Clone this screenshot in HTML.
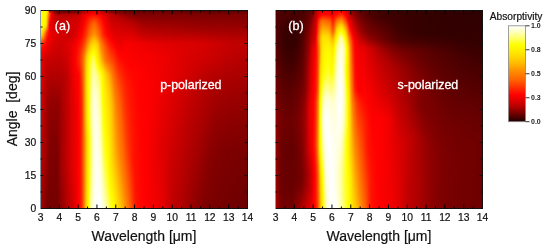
<!DOCTYPE html>
<html><head><meta charset="utf-8"><style>
html,body{margin:0;padding:0;background:#fff;width:550px;height:251px;overflow:hidden}
.fld{position:absolute;overflow:hidden}
.fld i{position:absolute;top:0;width:1px;height:100%}
svg{position:absolute;left:0;top:0}
text{font-family:"Liberation Sans",Arial,sans-serif}
.ax{stroke:#111;stroke-width:0.2px}
.wt{fill:#fff;stroke:#fff;stroke-width:0.3px}
</style></head><body>
<div class="fld" style="left:41px;top:11px;width:206px;height:197px"><i style="left:0px;background:linear-gradient(#ff0,#fffd00 14.5px,#ffea00 19.5px,#ffcf00 23.5px,#ffb700 25.5px,#ff6e00 29.5px,#ff3a00 32.5px,#ff2500 34.5px,#f00 40.5px,#ea0000 48.5px,#bf0000 133.5px,#a50000)"></i><i style="left:1px;background:linear-gradient(#ff0,#fffb00 14.5px,#ffe900 18.5px,#ffc200 23.5px,#ff9400 26.5px,#ff4f00 30.5px,#ff2e00 32.5px,#ff1b00 34.5px,#ff0200 38.5px,#e40000 48.5px,#c30000 104.5px,#a00 172.5px,#9b0000)"></i><i style="left:2px;background:linear-gradient(#ff0,#fff900 14.5px,#ffe100 18.5px,#ffab00 23.5px,#ff6300 28.5px,#ff3000 31.5px,#ff1800 33.5px,#fe0000 37.5px,#e10000 46.5px,#d20000 62.5px,#bc0000 100.5px,#ac0000 157.5px,#920000)"></i><i style="left:3px;background:linear-gradient(#ff0,#fff400 13.5px,#ffe200 16.5px,#ffbc00 19.5px,#ff8b00 22.5px,#ff6000 26.5px,#ff2b00 30.5px,#ff0e00 33.5px,#ff0200 35.5px,#da0000 46.5px,#c80000 64.5px,#b40000 98.5px,#a00 147.5px,#8a0000 194.5px,#890000)"></i><i style="left:4px;background:linear-gradient(#fffe00,#ffe800 13.5px,#ffd800 15.5px,#ffbc00 17.5px,#ff8100 20.5px,#ff5b00 23.5px,#ff2800 28.5px,#ff0400 33.5px,#fa0000 35.5px,#d50000 45.5px,#c60000 56.5px,#a00 100.5px,#a00000 150.5px,#810000 194.5px,#7f0000)"></i><i style="left:5px;background:linear-gradient(#fff000,#ffdf00 4.5px,#ffd200 13.5px,#ffc000 15.5px,#ff7200 19.5px,#ff3e00 22.5px,#ff1e00 26.5px,#fe0000 32.5px,#d00000 46.5px,#bd0000 60.5px,#a10000 97.5px,#970000 151.5px,#790000)"></i><i style="left:6px;background:linear-gradient(#ffd700,#ffca00 2.5px,#ffb000 5.5px,#ff8f00 12.5px,#ff6a00 16.5px,#ff4e00 18.5px,#ff2500 21.5px,#ff1000 24.5px,#f00 28.5px,#c80000 49.5px,#9e0000 91.5px,#860000 168.5px,#700)"></i><i style="left:7px;background:linear-gradient(#ff9a00,#ff7400 5.5px,#ff4a00 12.5px,#ff0d00 21.5px,#f00 24.5px,#c50000 50.5px,#960000 96.5px,#760000)"></i><i style="left:8px;background:linear-gradient(#ff6100,#ff4b00 4.5px,#ff0d00 10.5px,#ff0100 12.5px,#f50000 26.5px,#c20000 51.5px,#920000 97.5px,#7e0000 150.5px,#760000)"></i><i style="left:9px;background:linear-gradient(#ff2000,#ff1900 4.5px,#f00 8.5px,#ef0000 12.5px,#ef0000 26.5px,#bf0000 53.5px,#8f0000 97.5px,#7e0000 140.5px,#750000)"></i><i style="left:10px;background:linear-gradient(#f00000,#f60000 4.5px,#e50000 12.5px,#ea0000 25.5px,#c00 44.5px,#b10000 65.5px,#900000 96.5px,#7e0000 140.5px,#750000)"></i><i style="left:11px;background:linear-gradient(#c20000,#c80000 1.5px,#e10000 3.5px,#df0000 15.5px,#e70000 24.5px,#c00 44.5px,#9b0000 83.5px,#860000 114.5px,#750000 188.5px,#750000)"></i><i style="left:12px;background:linear-gradient(#9c0000,#a80000 1.5px,#cf0000 3.5px,#d50000 7.5px,#de0000 17.5px,#e40000 24.5px,#c70000 47.5px,#940000 90.5px,#800000 130.5px,#750000)"></i><i style="left:13px;background:linear-gradient(#8a0000,#960000 1.5px,#c10000 3.5px,#c00 6.5px,#e10000 23.5px,#c40000 49.5px,#930000 91.5px,#800000 132.5px,#750000)"></i><i style="left:14px;background:linear-gradient(#7c0000,#890000 1.5px,#ba0000 3.5px,#c70000 6.5px,#df0000 22.5px,#ca0000 44.5px,#930000 92.5px,#7f0000 133.5px,#750000)"></i><i style="left:15px;background:linear-gradient(#730000,#800000 1.5px,#b60000 3.5px,#c50000 6.5px,#dc0000 21.5px,#d30000 35.5px,#910000 94.5px,#7e0000 137.5px,#740000)"></i><i style="left:16px;background:linear-gradient(#6f0000,#7d0000 1.5px,#960000 2.5px,#b40000 3.5px,#c30000 6.5px,#da0000 21.5px,#d00000 37.5px,#900000 95.5px,#7d0000 159.5px,#700)"></i><i style="left:17px;background:linear-gradient(#6f0000,#7d0000 1.5px,#950000 2.5px,#b30000 3.5px,#c20000 6.5px,#d80000 20.5px,#d30000 32.5px,#a00 71.5px,#920000 94.5px,#7d0000)"></i><i style="left:18px;background:linear-gradient(#6f0000,#7d0000 1.5px,#b30000 3.5px,#c10000 6.5px,#d70000 20.5px,#d10000 35.5px,#970000 92.5px,#8f0000 165.5px,#840000)"></i><i style="left:19px;background:linear-gradient(#6e0000,#7d0000 1.5px,#b30000 3.5px,#c10000 6.5px,#d60000 21.5px,#c00 41.5px,#9f0000 87.5px,#9c0000 111.5px,#900 159.5px,#8a0000)"></i><i style="left:20px;background:linear-gradient(#6e0000,#7d0000 1.5px,#b30000 3.5px,#c10000 6.5px,#d40000 20.5px,#d00000 39.5px,#b10000 69.5px,#a30000 96.5px,#a10000 155.5px,#900000)"></i><i style="left:21px;background:linear-gradient(#6e0000,#7d0000 1.5px,#b30000 3.5px,#c10000 6.5px,#d20000 19.5px,#d10000 39.5px,#b40000 67.5px,#a90000 99.5px,#a70000 154.5px,#950000)"></i><i style="left:22px;background:linear-gradient(#6e0000,#7d0000 1.5px,#b30000 3.5px,#c10000 6.5px,#ce0000 16.5px,#d40000 37.5px,#b50000 67.5px,#af0000 108.5px,#ad0000 156.5px,#9b0000)"></i><i style="left:23px;background:linear-gradient(#6e0000,#7d0000 1.5px,#b30000 3.5px,#c10000 6.5px,#cd0000 14.5px,#d60000 36.5px,#c00000 57.5px,#b70000 68.5px,#b10000 163.5px,#a10000)"></i><i style="left:24px;background:linear-gradient(#6d0000,#7d0000 1.5px,#b30000 3.5px,#c20000 6.5px,#c00 12.5px,#d30000 27.5px,#d80000 36.5px,#c50000 55.5px,#ba0000 66.5px,#b70000 158.5px,#a70000 195.5px,#a70000)"></i><i style="left:25px;background:linear-gradient(#6d0000,#7d0000 1.5px,#b30000 3.5px,#c20000 6.5px,#cd0000 11.5px,#d10000 26.5px,#db0000 34.5px,#cb0000 53.5px,#bd0000 65.5px,#be0000 153.5px,#ae0000)"></i><i style="left:26px;background:linear-gradient(#6d0000,#7d0000 1.5px,#b30000 3.5px,#c30000 6.5px,#ce0000 11.5px,#cf0000 25.5px,#d00 33.5px,#d00000 52.5px,#c10000 64.5px,#c50000 149.5px,#b40000)"></i><i style="left:27px;background:linear-gradient(#6d0000,#7d0000 1.5px,#b20000 3.5px,#c30000 6.5px,#cf0000 11.5px,#cd0000 24.5px,#df0000 33.5px,#d50000 53.5px,#c70000 65.5px,#cb0000 149.5px,#ba0000)"></i><i style="left:28px;background:linear-gradient(#6d0000,#7d0000 1.5px,#b30000 3.5px,#c40000 6.5px,#d00000 11.5px,#cd0000 24.5px,#e10000 33.5px,#da0000 54.5px,#d00000 67.5px,#d10000 115.5px,#d10000 155.5px,#bf0000)"></i><i style="left:29px;background:linear-gradient(#6e0000,#7d0000 1.5px,#b30000 3.5px,#c50000 6.5px,#d10000 11.5px,#cd0000 24.5px,#e40000 33.5px,#e10000 54.5px,#d70000 68.5px,#d60000 113.5px,#d60000 154.5px,#c50000)"></i><i style="left:30px;background:linear-gradient(#6f0000,#7f0000 1.5px,#b50000 3.5px,#c60000 6.5px,#d20000 11.5px,#cd0000 24.5px,#e70000 33.5px,#e80000 53.5px,#d00 70.5px,#db0000 112.5px,#db0000 154.5px,#cb0000)"></i><i style="left:31px;background:linear-gradient(#710000,#800000 1.5px,#b70000 3.5px,#c70000 6.5px,#d30000 11.5px,#d00000 24.5px,#ea0000 33.5px,#ef0000 52.5px,#e20000 74.5px,#df0000 111.5px,#df0000 156.5px,#d10000)"></i><i style="left:32px;background:linear-gradient(#730000,#820000 1.5px,#b90000 3.5px,#c90000 6.5px,#d30000 11.5px,#d30000 24.5px,#ef0000 33.5px,#f50000 51.5px,#e40000 90.5px,#e40000 157.5px,#d70000)"></i><i style="left:33px;background:linear-gradient(#750000,#850000 1.5px,#bc0000 3.5px,#cb0000 6.5px,#d40000 12.5px,#d80000 24.5px,#f30000 33.5px,#fb0000 50.5px,#e70000 96.5px,#e90000 154.5px,#d00)"></i><i style="left:34px;background:linear-gradient(#780000,#870000 1.5px,#bf0000 3.5px,#c00 6.5px,#d70000 16.5px,#d00 24.5px,#f80000 33.5px,#ff0300 46.5px,#fb0000 59.5px,#ec0000 98.5px,#ef0000 154.5px,#e40000)"></i><i style="left:35px;background:linear-gradient(#7b0000,#8a0000 1.5px,#c20000 3.5px,#c00 5.5px,#e30000 24.5px,#fd0000 33.5px,#ff0c00 49.5px,#fd0000 62.5px,#f10000 98.5px,#f30000 167.5px,#ed0000)"></i><i style="left:36px;background:linear-gradient(#7e0000,#8e0000 1.5px,#c50000 3.5px,#ce0000 5.5px,#ea0000 24.5px,#ff0200 32.5px,#ff1500 46.5px,#f10 53.5px,#fe0000 63.5px,#f70000 103.5px,#f70000)"></i><i style="left:37px;background:linear-gradient(#810000,#910000 1.5px,#c80000 3.5px,#d10000 5.5px,#e30000 18.5px,#f00 29.5px,#ff1500 38.5px,#ff2000 48.5px,#ff1600 55.5px,#ff0300 64.5px,#fe0000 130.5px,#f00)"></i><i style="left:38px;background:linear-gradient(#850000,#960000 1.5px,#c00 3.5px,#d50000 5.5px,#e60000 17.5px,#ff0300 28.5px,#ff1a00 36.5px,#ff2c00 47.5px,#ff2700 53.5px,#ff0f00 64.5px,#ff0800 109.5px,#ff0800)"></i><i style="left:39px;background:linear-gradient(#8b0000,#9c0000 1.5px,#d00000 3.5px,#db0000 6.5px,#f10000 19.5px,#ff0200 26.5px,#ff2300 36.5px,#ff3900 46.5px,#ff3600 53.5px,#ff2000 65.5px,#ff1500 98.5px,#ff1400)"></i><i style="left:40px;background:linear-gradient(#920000,#a40000 1.5px,#d50000 3.5px,#e10000 6.5px,#f00 23.5px,#ff4100 42.5px,#ff4c00 48.5px,#ff4000 58.5px,#ff3100 72.5px,#ff2500 98.5px,#ff2a00 154.5px,#ff2800)"></i><i style="left:41px;background:linear-gradient(#900,#da0000 3.5px,#e80000 6.5px,#ff0200 20.5px,#ff2000 29.5px,#ff5c00 45.5px,#ff5f00 51.5px,#ff4200 87.5px,#ff4000 107.5px,#ff4900 137.5px,#ff4300)"></i><i style="left:42px;background:linear-gradient(#a10000,#de0000 3.5px,#e00 6.5px,#ff0300 16.5px,#ff1f00 26.5px,#ff4f00 37.5px,#ff6700 42.5px,#ff7400 48.5px,#ff6700 129.5px,#ff6500)"></i><i style="left:43px;background:linear-gradient(#a90000,#e30000 3.5px,#f40000 6.5px,#ff0400 12.5px,#ff2700 25.5px,#f50 35.5px,#ff8a00 45.5px,#ff9200 49.5px,#ff8f00 106.5px,#ff8100 131.5px,#ff8700 183.5px,#ff8d00)"></i><i style="left:44px;background:linear-gradient(#b00000,#d50000 2.5px,#e90000 3.5px,#f70000 5.5px,#ff0300 8.5px,#ff3000 24.5px,#ff8000 39.5px,#ffa600 45.5px,#ffb100 49.5px,#ffb900 68.5px,#ffb700 105.5px,#ffa400 130.5px,#fa0 174.5px,#ffb900)"></i><i style="left:45px;background:linear-gradient(#b50000,#e00 3.5px,#fd0000 5.5px,#f20 14.5px,#ff3b00 23.5px,#ff7600 33.5px,#ff9c00 39.5px,#ffc200 45.5px,#ffcf00 51.5px,#ffda00 65.5px,#ffd600 106.5px,#ffc500 131.5px,#fc0 179.5px,#ffd500)"></i><i style="left:46px;background:linear-gradient(#b00,#f30000 3.5px,#fc0000 4.5px,#ff2000 10.5px,#ff4e00 23.5px,#ffa000 36.5px,#ffc400 41.5px,#ffdf00 47.5px,#fe0 62.5px,#ffec00 106.5px,#ffde00 133.5px,#ffe500 185.5px,#ffea00)"></i><i style="left:47px;background:linear-gradient(#c20000,#f80000 3.5px,#ff0200 4.5px,#ff2000 8.5px,#ff4500 16.5px,#ff6500 24.5px,#ff8a00 30.5px,#ffd000 40.5px,#ffe700 45.5px,#fff500 53.5px,#fffd00 72.5px,#ffff01 101.5px,#fff000 133.5px,#fff700 185.5px,#fffc00)"></i><i style="left:48px;background:linear-gradient(#c80000,#fb0000 3.5px,#ff1000 5.5px,#f30 10.5px,#f50 17.5px,#f70 25.5px,#ffc200 35.5px,#ffe700 42.5px,#fffa00 49.5px,#ff0 53.5px,#ffff20 62.5px,#ffff40 82.5px,#ffff4a 98.5px,#ffff40 106.5px,#ffff0b 125.5px,#ffff05 133.5px,#ffff0c 161.5px,#ffff21 179.5px,#ff4 194.5px,#ffff4a)"></i><i style="left:49px;background:linear-gradient(#cf0000,#f10000 2.5px,#fe0000 3.5px,#ff2e00 8.5px,#ff5900 15.5px,#ff7c00 24.5px,#ffc500 33.5px,#ffed00 41.5px,#fffe00 46.5px,#ffff25 52.5px,#ff4 60.5px,#ffff6c 81.5px,#ffff7a 96.5px,#ffff74 105.5px,#ffff4a 127.5px,#ffff4b 147.5px,#ffff5d 169.5px,#ffff7d 187.5px,#ffff94)"></i><i style="left:50px;background:linear-gradient(#d40000,#f50000 2.5px,#ff0300 3.5px,#ff2d00 7.5px,#ff5a00 13.5px,#ff8100 23.5px,#ffb100 29.5px,#ffcf00 33.5px,#fff900 42.5px,#ffff03 44.5px,#ffff2b 47.5px,#ffff46 51.5px,#ffff65 59.5px,#ffff92 81.5px,#ffff9f 97.5px,#ffff96 110.5px,#ffff7f 128.5px,#ffff85 154.5px,#ffff9f 181.5px,#ffffb9)"></i><i style="left:51px;background:linear-gradient(#d80000,#f80000 2.5px,#ff0600 3.5px,#ff3c00 8.5px,#ff6200 13.5px,#ff8500 22.5px,#fa0 27.5px,#ffca00 31.5px,#fe0 38.5px,#fffe00 42.5px,#ffff43 47.5px,#ffff5f 51.5px,#ffff83 59.5px,#ffff9b 69.5px,#ffffb8 88.5px,#ffffbc 101.5px,#ffffa5 130.5px,#ffffad 161.5px,#ffffc6 187.5px,#ffffd3)"></i><i style="left:52px;background:linear-gradient(#da0000,#fa0000 2.5px,#ff0700 3.5px,#ff4900 9.5px,#ff6200 12.5px,#ff8c00 22.5px,#ffb100 27.5px,#ffd000 31.5px,#ffed00 37.5px,#fffd00 41.5px,#ffff06 42.5px,#ffff41 46.5px,#ffff5d 49.5px,#ffff87 56.5px,#ffffa0 63.5px,#ffffca 84.5px,#ffffd3 98.5px,#ffffc6 135.5px,#ffffd3 173.5px,#ffffe5)"></i><i style="left:53px;background:linear-gradient(#db0000,#fa0000 2.5px,#ff0800 3.5px,#ff4900 9.5px,#ff6200 12.5px,#ff8c00 22.5px,#ffb200 27.5px,#ffd700 32.5px,#fffa00 41.5px,#fffe00 42.5px,#ffff08 43.5px,#ffff3b 47.5px,#ffff6d 53.5px,#ffff97 60.5px,#ffffb9 71.5px,#ffffd4 84.5px,#ffffdf 97.5px,#ffffe3 160.5px,#fffff1)"></i><i style="left:54px;background:linear-gradient(#d90000,#f80000 2.5px,#ff0600 3.5px,#ff3c00 8.5px,#ff6300 13.5px,#ff8600 22.5px,#ffa300 26.5px,#ffc600 30.5px,#ffe100 35.5px,#fffe00 45.5px,#ffff05 46.5px,#ffff5f 55.5px,#ffff8e 61.5px,#ffffa7 67.5px,#ffffce 82.5px,#ffffe1 99.5px,#fffff0 142.5px,#fffff7)"></i><i style="left:55px;background:linear-gradient(#d50000,#f60000 2.5px,#ff0400 3.5px,#ff2d00 7.5px,#ff5a00 13.5px,#ff8100 23.5px,#ffac00 28.5px,#ffc600 31.5px,#ffe100 37.5px,#fffe00 50.5px,#ffff07 51.5px,#ffff5a 58.5px,#ffff86 63.5px,#ffff9c 68.5px,#ffffc4 82.5px,#ffffda 97.5px,#ffffef 129.5px,#fffffb)"></i><i style="left:56px;background:linear-gradient(#d00000,#f20000 2.5px,#f00 3.5px,#ff2700 7.5px,#ff5300 14.5px,#ff7b00 24.5px,#ffc300 32.5px,#ffdc00 39.5px,#ff0 54.5px,#ffff52 60.5px,#ff7 64.5px,#ffff9a 72.5px,#ffffbf 86.5px,#ffffd5 102.5px,#ffffec 138.5px,#fffffd 193.5px,#fffffd)"></i><i style="left:57px;background:linear-gradient(#ca0000,#fc0000 3.5px,#ff2700 8.5px,#ff5000 16.5px,#ff7000 24.5px,#ff8f00 28.5px,#ffb700 33.5px,#ffca00 38.5px,#fff600 54.5px,#fffd00 56.5px,#ffff07 57.5px,#ffff43 61.5px,#ffff61 64.5px,#ffff8c 73.5px,#ffffac 85.5px,#ffffcb 106.5px,#fffff6 176.5px,#fff)"></i><i style="left:58px;background:linear-gradient(#c30000,#f80000 3.5px,#ff0300 4.5px,#ff2000 8.5px,#ff4800 17.5px,#ff6500 24.5px,#ffa500 34.5px,#ffc300 42.5px,#ffe400 52.5px,#ffff01 59.5px,#ffff30 62.5px,#ffff46 64.5px,#ffff6f 72.5px,#ffff94 83.5px,#ffffb4 102.5px,#ffffe8 166.5px,#fffffd)"></i><i style="left:59px;background:linear-gradient(#bc0000,#f40000 3.5px,#fc0000 4.5px,#ff2100 10.5px,#ff4000 19.5px,#f50 24.5px,#ff9500 35.5px,#ffd600 52.5px,#fffe00 61.5px,#ffff24 64.5px,#ffff4a 71.5px,#ffff6f 82.5px,#ffff98 102.5px,#ffffdb 162.5px,#fffff9)"></i><i style="left:60px;background:linear-gradient(#b60000,#ed0000 3.5px,#fc0000 5.5px,#ff2300 13.5px,#ff3e00 23.5px,#ff7200 31.5px,#ff9600 40.5px,#ffb800 49.5px,#ffef00 59.5px,#ff0 64.5px,#ff2 72.5px,#ffff40 85.5px,#ffff71 109.5px,#ffff9e 132.5px,#ffffd8 171.5px,#fffff3)"></i><i style="left:61px;background:linear-gradient(#b10000,#e60000 3.5px,#fb0000 6.5px,#ff0500 8.5px,#ff1e00 16.5px,#ff2f00 23.5px,#ff4800 27.5px,#f60 31.5px,#ff8000 38.5px,#ffa700 49.5px,#ffe600 59.5px,#fff600 64.5px,#ffff01 78.5px,#ffff26 100.5px,#ffffa5 158.5px,#ffffe7 194.5px,#ffffea)"></i><i style="left:62px;background:linear-gradient(#ac0000,#e00000 3.5px,#f40000 6.5px,#f00 9.5px,#ff1500 17.5px,#f20 23.5px,#ff4100 28.5px,#ff6300 33.5px,#ff9100 48.5px,#ffb100 53.5px,#ffd400 58.5px,#ffe700 62.5px,#fff200 70.5px,#ffff03 99.5px,#ffff46 135.5px,#ffffbf 184.5px,#ffd)"></i><i style="left:63px;background:linear-gradient(#a70000,#da0000 3.5px,#f20000 7.5px,#ff0300 13.5px,#ff1800 23.5px,#ff3500 28.5px,#ff5a00 34.5px,#ff8600 49.5px,#ffa700 54.5px,#ffc600 58.5px,#ffde00 63.5px,#fff000 79.5px,#ffff02 114.5px,#ffff26 135.5px,#ffff7f 170.5px,#ffffc8)"></i><i style="left:64px;background:linear-gradient(#a00000,#d50000 3.5px,#ec0000 7.5px,#f00 16.5px,#ff0f00 23.5px,#ff3000 29.5px,#ff5000 35.5px,#ff6a00 44.5px,#ff7d00 50.5px,#ffb000 57.5px,#ffc900 61.5px,#ffd900 66.5px,#ffec00 83.5px,#ff0 129.5px,#ffff3f 156.5px,#ffffb0)"></i><i style="left:65px;background:linear-gradient(#9b0000,#d10000 3.5px,#e50000 7.5px,#fa0000 17.5px,#ff0400 22.5px,#ff1a00 27.5px,#ff4000 34.5px,#ff7400 50.5px,#ff9300 55.5px,#ffc300 62.5px,#ffd500 70.5px,#ffe700 86.5px,#ffff01 141.5px,#ffff56 173.5px,#ffff9c)"></i><i style="left:66px;background:linear-gradient(#950000,#c00 3.5px,#dc0000 6.5px,#f70000 19.5px,#f00 23.5px,#ff3a00 35.5px,#ff7000 51.5px,#ff9600 57.5px,#fb0 63.5px,#ffd000 73.5px,#ffe500 92.5px,#ffff02 153.5px,#ffff6b 188.5px,#ffff85)"></i><i style="left:67px;background:linear-gradient(#8f0000,#c70000 3.5px,#d60000 6.5px,#ff0200 25.5px,#f30 36.5px,#ff6100 49.5px,#ff8500 56.5px,#ffae00 63.5px,#ffc500 72.5px,#ffdf00 94.5px,#fffe00 162.5px,#ffff03 165.5px,#ffff6d)"></i><i style="left:68px;background:linear-gradient(#8b0000,#9b0000 1.5px,#c30000 3.5px,#d10000 6.5px,#f60000 23.5px,#f00 26.5px,#ff2e00 37.5px,#ff5900 49.5px,#ffa500 64.5px,#ffc300 77.5px,#ffda00 100.5px,#fff300 158.5px,#ffff02 175.5px,#ffff56)"></i><i style="left:69px;background:linear-gradient(#860000,#960000 1.5px,#bf0000 3.5px,#c00 6.5px,#e90000 20.5px,#ff0200 28.5px,#ff3000 40.5px,#ff5600 50.5px,#ff9800 64.5px,#ffc000 82.5px,#ffd200 104.5px,#ffe800 152.5px,#ffff01 183.5px,#ffff3d)"></i><i style="left:70px;background:linear-gradient(#830000,#920000 1.5px,#bc0000 3.5px,#ca0000 7.5px,#ea0000 22.5px,#f00 29.5px,#ff4e00 50.5px,#ff7b00 60.5px,#ff9700 69.5px,#ffbc00 88.5px,#ffc900 107.5px,#ffd900 144.5px,#ffff01 189.5px,#ffff26)"></i><i style="left:71px;background:linear-gradient(#800000,#8e0000 1.5px,#b80000 3.5px,#c80000 7.5px,#eb0000 24.5px,#fe0000 30.5px,#ff4b00 51.5px,#ff6d00 59.5px,#ff9800 76.5px,#ffb600 94.5px,#ffc300 119.5px,#ffd400 150.5px,#ff0 193.5px,#ffff0f)"></i><i style="left:72px;background:linear-gradient(#7e0000,#8b0000 1.5px,#b50000 3.5px,#c60000 7.5px,#ea0000 25.5px,#ff0200 32.5px,#ff4a00 53.5px,#f60 60.5px,#ff9f00 88.5px,#ffb000 106.5px,#ffc500 143.5px,#fffd00)"></i><i style="left:73px;background:linear-gradient(#7b0000,#800 1.5px,#b20000 3.5px,#c40000 7.5px,#e60000 25.5px,#f00 33.5px,#ff4c00 56.5px,#ff6500 64.5px,#ff9700 94.5px,#ffb700 140.5px,#fff700)"></i><i style="left:74px;background:linear-gradient(#790000,#860000 1.5px,#af0000 3.5px,#c20000 7.5px,#d70000 18.5px,#ea0000 27.5px,#ff0100 35.5px,#ff5f00 66.5px,#ff8b00 95.5px,#ffac00 140.5px,#fff000)"></i><i style="left:75px;background:linear-gradient(#700,#830000 1.5px,#a00 3.5px,#b80000 5.5px,#cd0000 12.5px,#e80000 27.5px,#ff0100 37.5px,#ff5700 67.5px,#ff7300 84.5px,#ff8b00 110.5px,#ffa100 140.5px,#ffe800)"></i><i style="left:76px;background:linear-gradient(#750000,#810000 1.5px,#a70000 3.5px,#b60000 5.5px,#c00 12.5px,#eb0000 29.5px,#ff0100 39.5px,#ff4f00 68.5px,#ff6800 82.5px,#ff7f00 106.5px,#ff9600 139.5px,#ffe000)"></i><i style="left:77px;background:linear-gradient(#730000,#7e0000 1.5px,#a30000 3.5px,#b40000 5.5px,#c90000 11.5px,#ff0200 41.5px,#ff4700 68.5px,#ff6500 85.5px,#ff7900 111.5px,#ff8c00 139.5px,#ffb900 174.5px,#ffd700)"></i><i style="left:78px;background:linear-gradient(#720000,#7c0000 1.5px,#9f0000 3.5px,#b20000 5.5px,#c90000 11.5px,#ff0100 42.5px,#ff4100 69.5px,#ff6300 91.5px,#ff8600 142.5px,#ffb500 178.5px,#ffcf00)"></i><i style="left:79px;background:linear-gradient(#700000,#8a0000 2.5px,#9c0000 3.5px,#af0000 5.5px,#c70000 11.5px,#ff0100 43.5px,#ff3b00 70.5px,#ff6100 96.5px,#ff7f00 144.5px,#ffb000 181.5px,#ffc600)"></i><i style="left:80px;background:linear-gradient(#6f0000,#870000 2.5px,#900 3.5px,#b30000 6.5px,#c00 13.5px,#fd0000 42.5px,#ff2100 59.5px,#ff4b00 86.5px,#ff6200 110.5px,#ff7900 146.5px,#ffa200 179.5px,#ffbd00)"></i><i style="left:81px;background:linear-gradient(#6d0000,#850000 2.5px,#960000 3.5px,#b10000 6.5px,#ca0000 13.5px,#e80000 28.5px,#fa0000 38.5px,#ff0400 46.5px,#ff3200 73.5px,#f50 106.5px,#ff7900 155.5px,#ffa700 189.5px,#ffb200)"></i><i style="left:82px;background:linear-gradient(#6c0000,#830000 2.5px,#930000 3.5px,#ae0000 6.5px,#c70000 12.5px,#e40000 26.5px,#f60000 33.5px,#ff0300 46.5px,#ff2c00 74.5px,#ff4f00 113.5px,#ff7d00 167.5px,#ffa700)"></i><i style="left:83px;background:linear-gradient(#6b0000,#820000 2.5px,#9b0000 4.5px,#b20000 7.5px,#ca0000 14.5px,#e10000 25.5px,#f70000 32.5px,#ff0300 48.5px,#ff2500 73.5px,#ff5d00 142.5px,#f80 183.5px,#ff9b00)"></i><i style="left:84px;background:linear-gradient(#6b0000,#980000 4.5px,#b40000 8.5px,#c00 15.5px,#e20000 25.5px,#f80000 32.5px,#ff0300 50.5px,#ff1f00 72.5px,#ff5000 140.5px,#ff8900 191.5px,#ff9000)"></i><i style="left:85px;background:linear-gradient(#6a0000,#950000 4.5px,#b20000 8.5px,#ca0000 15.5px,#e10000 25.5px,#f80000 32.5px,#ff0300 51.5px,#ff1900 71.5px,#f40 138.5px,#ff8500)"></i><i style="left:86px;background:linear-gradient(#690000,#9a0000 5.5px,#b50000 9.5px,#c00 16.5px,#e10000 25.5px,#f80000 32.5px,#ff0300 52.5px,#ff1600 71.5px,#ff3d00 139.5px,#ff7a00)"></i><i style="left:87px;background:linear-gradient(#680000,#970000 5.5px,#b30000 9.5px,#ca0000 16.5px,#e50000 26.5px,#f70000 32.5px,#ff0200 53.5px,#ff1400 71.5px,#ff3500 140.5px,#ff5b00 176.5px,#ff7100)"></i><i style="left:88px;background:linear-gradient(#680000,#9c0000 6.5px,#b60000 10.5px,#ce0000 18.5px,#e40000 26.5px,#f70000 32.5px,#ff0200 54.5px,#ff1200 72.5px,#ff2e00 142.5px,#ff5100 178.5px,#ff6700)"></i><i style="left:89px;background:linear-gradient(#670000,#a10000 7.5px,#b80000 11.5px,#e70000 27.5px,#f70000 33.5px,#ff0200 55.5px,#ff1000 73.5px,#ff2700 144.5px,#ff4700 179.5px,#ff5d00)"></i><i style="left:90px;background:linear-gradient(#670000,#9e0000 7.5px,#b60000 11.5px,#e70000 27.5px,#f70000 33.5px,#ff0200 56.5px,#ff0e00 74.5px,#ff2000 146.5px,#ff3f00 182.5px,#ff4f00)"></i><i style="left:91px;background:linear-gradient(#600,#8d0000 5.5px,#b40000 11.5px,#e60000 27.5px,#f50000 32.5px,#ff0200 57.5px,#ff0e00 78.5px,#ff1a00 148.5px,#ff3600 186.5px,#ff4000)"></i><i style="left:92px;background:linear-gradient(#600,#840000 4.5px,#b30000 11.5px,#e40000 27.5px,#f40000 32.5px,#ff0200 58.5px,#ff0e00 86.5px,#ff1500 151.5px,#ff3000 194.5px,#ff3200)"></i><i style="left:93px;background:linear-gradient(#600,#7e0000 3.5px,#b10000 11.5px,#e30000 27.5px,#f30000 32.5px,#ff0300 59.5px,#ff0d00 95.5px,#f10 155.5px,#ff2400)"></i><i style="left:94px;background:linear-gradient(#600,#7e0000 3.5px,#b20000 12.5px,#d00 26.5px,#f30000 32.5px,#ff0300 60.5px,#ff0b00 101.5px,#ff0f00 164.5px,#ff1900)"></i><i style="left:95px;background:linear-gradient(#600,#7e0000 3.5px,#b00000 12.5px,#d80000 25.5px,#f20000 32.5px,#ff0300 61.5px,#ff0900 109.5px,#ff0f00 179.5px,#ff1300)"></i><i style="left:96px;background:linear-gradient(#650000,#7e0000 3.5px,#b10000 13.5px,#d60000 25.5px,#f10000 32.5px,#ff0300 62.5px,#ff0800 120.5px,#ff0f00)"></i><i style="left:97px;background:linear-gradient(#650000,#7e0000 3.5px,#af0000 13.5px,#d00000 24.5px,#f10000 32.5px,#ff0300 63.5px,#ff0c00)"></i><i style="left:98px;background:linear-gradient(#650000,#7e0000 3.5px,#b00000 14.5px,#ce0000 24.5px,#f00000 32.5px,#ff0100 60.5px,#ff0500 133.5px,#ff0900)"></i><i style="left:99px;background:linear-gradient(#650000,#7e0000 3.5px,#ad0000 14.5px,#c00 24.5px,#ef0000 32.5px,#fe0000 56.5px,#ff0500 161.5px,#ff0700)"></i><i style="left:100px;background:linear-gradient(#650000,#7e0000 3.5px,#ab0000 14.5px,#ca0000 24.5px,#e00 32.5px,#fb0000 50.5px,#ff0200 73.5px,#ff0400)"></i><i style="left:101px;background:linear-gradient(#650000,#7e0000 3.5px,#a90000 14.5px,#c80000 24.5px,#e00 32.5px,#f90000 47.5px,#ff0100 71.5px,#ff0300)"></i><i style="left:102px;background:linear-gradient(#650000,#7e0000 3.5px,#a40000 13.5px,#c70000 24.5px,#ed0000 32.5px,#f90000 46.5px,#f00 73.5px,#ff0100)"></i><i style="left:103px;background:linear-gradient(#650000,#7e0000 3.5px,#a30000 13.5px,#c70000 24.5px,#ec0000 32.5px,#f80000 45.5px,#f00 74.5px,#fe0000)"></i><i style="left:104px;background:linear-gradient(#640000,#7e0000 3.5px,#9f0000 12.5px,#cb0000 25.5px,#ec0000 32.5px,#f80000 45.5px,#fe0000 75.5px,#fd0000)"></i><i style="left:105px;background:linear-gradient(#640000,#7e0000 3.5px,#9b0000 11.5px,#ca0000 25.5px,#eb0000 32.5px,#f70000 44.5px,#fe0000 73.5px,#fc0000)"></i><i style="left:106px;background:linear-gradient(#640000,#7e0000 3.5px,#9b0000 11.5px,#ca0000 25.5px,#ea0000 32.5px,#f70000 44.5px,#fd0000 73.5px,#fb0000)"></i><i style="left:107px;background:linear-gradient(#640000,#7e0000 3.5px,#9a0000 11.5px,#c90000 25.5px,#ea0000 32.5px,#f60000 43.5px,#fd0000 71.5px,#f90000 180.5px,#fa0000)"></i><i style="left:108px;background:linear-gradient(#640000,#7e0000 3.5px,#970000 10.5px,#c80000 25.5px,#e90000 32.5px,#f50000 43.5px,#fc0000 71.5px,#f70000 166.5px,#f90000)"></i><i style="left:109px;background:linear-gradient(#640000,#7e0000 3.5px,#970000 10.5px,#c80000 25.5px,#e80000 32.5px,#f40000 43.5px,#fc0000 71.5px,#f50000 157.5px,#f80000)"></i><i style="left:110px;background:linear-gradient(#640000,#7e0000 3.5px,#960000 10.5px,#c70000 25.5px,#e80000 32.5px,#f40000 44.5px,#fb0000 71.5px,#f30000 152.5px,#f70000)"></i><i style="left:111px;background:linear-gradient(#640000,#7e0000 3.5px,#960000 10.5px,#c70000 25.5px,#e70000 32.5px,#f30000 44.5px,#fa0000 71.5px,#f20000 148.5px,#f60000)"></i><i style="left:112px;background:linear-gradient(#640000,#7e0000 3.5px,#960000 10.5px,#c60000 25.5px,#e70000 32.5px,#f30000 44.5px,#fa0000 71.5px,#f00000 145.5px,#f50000)"></i><i style="left:113px;background:linear-gradient(#640000,#7e0000 3.5px,#950000 10.5px,#c60000 25.5px,#e60000 32.5px,#f20000 44.5px,#f90000 72.5px,#e00 143.5px,#f30000)"></i><i style="left:114px;background:linear-gradient(#640000,#7e0000 3.5px,#950000 10.5px,#c60000 25.5px,#e60000 32.5px,#f20000 45.5px,#f80000 73.5px,#ec0000 141.5px,#f20000)"></i><i style="left:115px;background:linear-gradient(#640000,#7e0000 3.5px,#950000 10.5px,#c50000 25.5px,#e50000 32.5px,#f20000 45.5px,#f60000 74.5px,#ea0000 140.5px,#f10000)"></i><i style="left:116px;background:linear-gradient(#640000,#7e0000 3.5px,#950000 10.5px,#c50000 25.5px,#e50000 32.5px,#f20000 45.5px,#f50000 75.5px,#e80000 138.5px,#ef0000)"></i><i style="left:117px;background:linear-gradient(#640000,#7e0000 3.5px,#940000 10.5px,#c40000 25.5px,#e40000 32.5px,#f10000 45.5px,#f40000 77.5px,#e60000 137.5px,#ed0000)"></i><i style="left:118px;background:linear-gradient(#640000,#7e0000 3.5px,#940000 10.5px,#c40000 25.5px,#e40000 32.5px,#f10000 45.5px,#f20000 80.5px,#e40000 136.5px,#eb0000)"></i><i style="left:119px;background:linear-gradient(#640000,#7e0000 3.5px,#940000 10.5px,#c40000 25.5px,#e30000 32.5px,#f10000 46.5px,#f00000 83.5px,#e20000 136.5px,#e90000)"></i><i style="left:120px;background:linear-gradient(#630000,#7e0000 3.5px,#940000 10.5px,#c30000 25.5px,#e30000 32.5px,#f00000 46.5px,#e00 83.5px,#e00000 135.5px,#e70000)"></i><i style="left:121px;background:linear-gradient(#630000,#7e0000 3.5px,#940000 10.5px,#c30000 25.5px,#e20000 32.5px,#f00000 46.5px,#ec0000 84.5px,#df0000 135.5px,#e50000)"></i><i style="left:122px;background:linear-gradient(#630000,#7e0000 3.5px,#910000 9.5px,#c30000 25.5px,#e20000 32.5px,#ef0000 46.5px,#eb0000 84.5px,#d00 135.5px,#e20000)"></i><i style="left:123px;background:linear-gradient(#630000,#7e0000 3.5px,#910000 9.5px,#c20000 25.5px,#e10000 32.5px,#e00 46.5px,#e90000 85.5px,#db0000 135.5px,#df0000)"></i><i style="left:124px;background:linear-gradient(#630000,#7e0000 3.5px,#910000 9.5px,#c20000 25.5px,#e10000 32.5px,#ed0000 46.5px,#e70000 86.5px,#d90000 135.5px,#db0000)"></i><i style="left:125px;background:linear-gradient(#630000,#7e0000 3.5px,#910000 9.5px,#c20000 25.5px,#e00000 32.5px,#ed0000 47.5px,#e40000 88.5px,#d80000 136.5px,#d70000)"></i><i style="left:126px;background:linear-gradient(#630000,#7e0000 3.5px,#910000 9.5px,#c20000 25.5px,#e00000 32.5px,#ec0000 47.5px,#e30000 89.5px,#d50000 141.5px,#d30000)"></i><i style="left:127px;background:linear-gradient(#630000,#7e0000 3.5px,#910000 9.5px,#c10000 25.5px,#e00000 32.5px,#eb0000 47.5px,#e10000 89.5px,#d20000 148.5px,#cf0000)"></i><i style="left:128px;background:linear-gradient(#630000,#7e0000 3.5px,#900000 9.5px,#c10000 25.5px,#df0000 32.5px,#ea0000 47.5px,#df0000 90.5px,#cd0000 166.5px,#ca0000)"></i><i style="left:129px;background:linear-gradient(#630000,#7e0000 3.5px,#900000 9.5px,#c10000 25.5px,#dc0000 31.5px,#e60000 39.5px,#e70000 62.5px,#c00 159.5px,#c70000)"></i><i style="left:130px;background:linear-gradient(#630000,#7e0000 3.5px,#900000 9.5px,#c10000 25.5px,#dc0000 31.5px,#e50000 39.5px,#e60000 62.5px,#c80000 166.5px,#c30000)"></i><i style="left:131px;background:linear-gradient(#630000,#7e0000 3.5px,#900000 9.5px,#bc0000 24.5px,#dc0000 31.5px,#e40000 39.5px,#e40000 62.5px,#c50000 170.5px,#c00000)"></i><i style="left:132px;background:linear-gradient(#630000,#7e0000 3.5px,#900000 9.5px,#bc0000 24.5px,#db0000 31.5px,#e30000 38.5px,#e40000 60.5px,#c30000 171.5px,#be0000)"></i><i style="left:133px;background:linear-gradient(#630000,#7e0000 3.5px,#900000 9.5px,#b00 24.5px,#db0000 31.5px,#e30000 38.5px,#e30000 60.5px,#c20000 167.5px,#bc0000)"></i><i style="left:134px;background:linear-gradient(#630000,#7e0000 3.5px,#8f0000 9.5px,#b00 24.5px,#db0000 31.5px,#e20000 38.5px,#e20000 60.5px,#c20000 161.5px,#ba0000)"></i><i style="left:135px;background:linear-gradient(#630000,#7e0000 3.5px,#8f0000 9.5px,#b00 24.5px,#db0000 31.5px,#e10000 38.5px,#e00000 60.5px,#c30000 151.5px,#b90000)"></i><i style="left:136px;background:linear-gradient(#630000,#7e0000 3.5px,#8f0000 9.5px,#b00 24.5px,#da0000 31.5px,#e10000 38.5px,#df0000 60.5px,#c40000 141.5px,#b70000)"></i><i style="left:137px;background:linear-gradient(#620000,#7e0000 3.5px,#8f0000 9.5px,#b70000 23.5px,#da0000 31.5px,#e00000 38.5px,#de0000 60.5px,#c50000 133.5px,#b50000)"></i><i style="left:138px;background:linear-gradient(#620000,#7e0000 3.5px,#8f0000 9.5px,#b70000 23.5px,#da0000 31.5px,#e00000 38.5px,#d00 59.5px,#c50000 126.5px,#b40000)"></i><i style="left:139px;background:linear-gradient(#620000,#7e0000 3.5px,#8f0000 9.5px,#b60000 23.5px,#da0000 31.5px,#df0000 37.5px,#dc0000 59.5px,#c50000 122.5px,#b20000)"></i><i style="left:140px;background:linear-gradient(#620000,#7e0000 3.5px,#8e0000 9.5px,#ad0000 20.5px,#c30000 26.5px,#da0000 31.5px,#de0000 37.5px,#db0000 59.5px,#c40000 119.5px,#b00000)"></i><i style="left:141px;background:linear-gradient(#620000,#7e0000 3.5px,#8e0000 9.5px,#ad0000 20.5px,#c30000 26.5px,#da0000 31.5px,#de0000 37.5px,#db0000 58.5px,#c30000 116.5px,#ae0000)"></i><i style="left:142px;background:linear-gradient(#620000,#7e0000 3.5px,#8e0000 9.5px,#ac0000 20.5px,#c30000 26.5px,#d90000 31.5px,#d00 37.5px,#da0000 58.5px,#c20000 114.5px,#ac0000)"></i><i style="left:143px;background:linear-gradient(#620000,#7e0000 3.5px,#8e0000 9.5px,#ac0000 20.5px,#c30000 26.5px,#d90000 31.5px,#d00 37.5px,#d90000 58.5px,#c10000 113.5px,#a90000)"></i><i style="left:144px;background:linear-gradient(#620000,#7e0000 3.5px,#8e0000 9.5px,#ac0000 20.5px,#c20000 26.5px,#d90000 31.5px,#d00 37.5px,#d70000 58.5px,#c00000 111.5px,#a60000)"></i><i style="left:145px;background:linear-gradient(#620000,#7e0000 3.5px,#8e0000 9.5px,#a80000 19.5px,#c20000 26.5px,#d90000 31.5px,#dc0000 37.5px,#d60000 58.5px,#c00000 109.5px,#a50000 192.5px,#a40000)"></i><i style="left:146px;background:linear-gradient(#620000,#7e0000 3.5px,#8d0000 9.5px,#a80000 19.5px,#c20000 26.5px,#d80000 31.5px,#dc0000 37.5px,#d50000 58.5px,#bf0000 107.5px,#a50000 187.5px,#a10000)"></i><i style="left:147px;background:linear-gradient(#620000,#7e0000 3.5px,#8d0000 9.5px,#a70000 19.5px,#c20000 26.5px,#d80000 31.5px,#dc0000 37.5px,#d40000 58.5px,#bf0000 103.5px,#a50000 182.5px,#9f0000)"></i><i style="left:148px;background:linear-gradient(#620000,#7e0000 3.5px,#8d0000 9.5px,#a70000 19.5px,#c20000 26.5px,#d80000 31.5px,#dc0000 37.5px,#d30000 58.5px,#bf0000 98.5px,#a30000 179.5px,#9c0000)"></i><i style="left:149px;background:linear-gradient(#620000,#7e0000 3.5px,#8d0000 9.5px,#a70000 19.5px,#c10000 26.5px,#d80000 31.5px,#db0000 37.5px,#d20000 58.5px,#c00000 94.5px,#a20000 177.5px,#9a0000)"></i><i style="left:150px;background:linear-gradient(#620000,#7e0000 3.5px,#8d0000 9.5px,#a70000 19.5px,#c10000 26.5px,#d70000 31.5px,#db0000 37.5px,#d10000 58.5px,#bf0000 91.5px,#a10000 175.5px,#970000)"></i><i style="left:151px;background:linear-gradient(#610000,#7e0000 3.5px,#8d0000 9.5px,#a60000 19.5px,#c60000 27.5px,#d90000 32.5px,#d50000 52.5px,#c40000 76.5px,#9f0000 174.5px,#950000)"></i><i style="left:152px;background:linear-gradient(#610000,#7e0000 3.5px,#8c0000 9.5px,#a30000 18.5px,#c10000 26.5px,#d70000 31.5px,#da0000 37.5px,#cf0000 57.5px,#c10000 81.5px,#9e0000 171.5px,#930000)"></i><i style="left:153px;background:linear-gradient(#610000,#7e0000 3.5px,#8c0000 9.5px,#a30000 18.5px,#c00000 26.5px,#d60000 31.5px,#da0000 37.5px,#ce0000 57.5px,#c00000 79.5px,#9d0000 167.5px,#910000)"></i><i style="left:154px;background:linear-gradient(#610000,#7e0000 3.5px,#8c0000 9.5px,#a20000 18.5px,#c00000 26.5px,#d60000 31.5px,#d90000 37.5px,#ce0000 56.5px,#c10000 75.5px,#9d0000 162.5px,#8e0000)"></i><i style="left:155px;background:linear-gradient(#610000,#7e0000 3.5px,#8c0000 9.5px,#a20000 18.5px,#c50000 27.5px,#d80000 32.5px,#d30000 51.5px,#c10000 71.5px,#9e0000 156.5px,#8c0000)"></i><i style="left:156px;background:linear-gradient(#610000,#7e0000 3.5px,#8c0000 9.5px,#a20000 18.5px,#c50000 27.5px,#d80000 32.5px,#d30000 50.5px,#c10000 70.5px,#a00000 146.5px,#8a0000)"></i><i style="left:157px;background:linear-gradient(#610000,#7e0000 3.5px,#8c0000 9.5px,#a20000 18.5px,#c40000 27.5px,#d70000 32.5px,#d20000 50.5px,#bf0000 70.5px,#a40000 135.5px,#800)"></i><i style="left:158px;background:linear-gradient(#610000,#7e0000 3.5px,#8c0000 9.5px,#a20000 18.5px,#c40000 27.5px,#d70000 32.5px,#d20000 49.5px,#bf0000 69.5px,#a60000 126.5px,#870000)"></i><i style="left:159px;background:linear-gradient(#610000,#7e0000 3.5px,#8c0000 9.5px,#a10000 18.5px,#c40000 27.5px,#d70000 32.5px,#d10000 49.5px,#be0000 69.5px,#a80000 120.5px,#850000)"></i><i style="left:160px;background:linear-gradient(#610000,#7e0000 3.5px,#8c0000 9.5px,#a10000 18.5px,#c40000 27.5px,#d60000 32.5px,#d10000 48.5px,#bc0000 69.5px,#a80000 116.5px,#840000 194.5px,#840000)"></i><i style="left:161px;background:linear-gradient(#610000,#7e0000 3.5px,#8b0000 9.5px,#a10000 18.5px,#c30000 27.5px,#d60000 32.5px,#d10000 48.5px,#b00 69.5px,#a90000 112.5px,#870000 182.5px,#820000)"></i><i style="left:162px;background:linear-gradient(#610000,#7e0000 3.5px,#8b0000 9.5px,#a10000 18.5px,#c80000 28.5px,#d50000 32.5px,#d00000 48.5px,#ba0000 69.5px,#a90000 109.5px,#8b0000 166.5px,#810000)"></i><i style="left:163px;background:linear-gradient(#610000,#7e0000 3.5px,#8b0000 9.5px,#a10000 18.5px,#c70000 28.5px,#d50000 32.5px,#d00000 47.5px,#b90000 69.5px,#a80000 108.5px,#8d0000 157.5px,#800000)"></i><i style="left:164px;background:linear-gradient(#610000,#7e0000 3.5px,#8b0000 9.5px,#9d0000 17.5px,#c70000 28.5px,#d40000 32.5px,#cf0000 47.5px,#b80000 69.5px,#a70000 107.5px,#8e0000 150.5px,#7f0000)"></i><i style="left:165px;background:linear-gradient(#610000,#7e0000 3.5px,#8b0000 9.5px,#9d0000 17.5px,#c60000 28.5px,#d40000 32.5px,#cf0000 47.5px,#b70000 69.5px,#a40000 108.5px,#8d0000 147.5px,#7e0000)"></i><i style="left:166px;background:linear-gradient(#610000,#7e0000 3.5px,#8b0000 9.5px,#9d0000 17.5px,#d30000 32.5px,#ce0000 47.5px,#b60000 69.5px,#a30000 108.5px,#8c0000 144.5px,#7d0000)"></i><i style="left:167px;background:linear-gradient(#610000,#7e0000 3.5px,#8b0000 9.5px,#9d0000 17.5px,#d20000 32.5px,#cd0000 47.5px,#b50000 69.5px,#a00000 109.5px,#8b0000 143.5px,#7c0000 195.5px,#7c0000)"></i><i style="left:168px;background:linear-gradient(#610000,#7e0000 3.5px,#8b0000 9.5px,#9d0000 17.5px,#d20000 32.5px,#cd0000 47.5px,#b50000 69.5px,#9e0000 110.5px,#8a0000 143.5px,#7c0000 194.5px,#7b0000)"></i><i style="left:169px;background:linear-gradient(#610000,#7e0000 3.5px,#8b0000 9.5px,#9d0000 17.5px,#d10000 32.5px,#cd0000 46.5px,#b40000 69.5px,#9b0000 111.5px,#800 144.5px,#7b0000 195.5px,#7b0000)"></i><i style="left:170px;background:linear-gradient(#610000,#7e0000 3.5px,#8b0000 9.5px,#9d0000 17.5px,#d00000 32.5px,#c00 46.5px,#b30000 69.5px,#900 112.5px,#870000 145.5px,#7a0000)"></i><i style="left:171px;background:linear-gradient(#610000,#7e0000 3.5px,#8b0000 9.5px,#9d0000 17.5px,#d00000 32.5px,#ca0000 47.5px,#b20000 69.5px,#960000 114.5px,#840000 149.5px,#7a0000)"></i><i style="left:172px;background:linear-gradient(#610000,#7e0000 3.5px,#8b0000 9.5px,#9d0000 17.5px,#cf0000 32.5px,#ca0000 47.5px,#b20000 69.5px,#940000 115.5px,#820000 151.5px,#790000)"></i><i style="left:173px;background:linear-gradient(#610000,#7e0000 3.5px,#8b0000 9.5px,#9c0000 17.5px,#ce0000 32.5px,#c90000 47.5px,#b10000 69.5px,#920000 116.5px,#810000 153.5px,#790000)"></i><i style="left:174px;background:linear-gradient(#610000,#7e0000 3.5px,#8b0000 9.5px,#9c0000 17.5px,#cd0000 32.5px,#c80000 47.5px,#b00000 69.5px,#910000 117.5px,#7f0000 156.5px,#780000)"></i><i style="left:175px;background:linear-gradient(#610000,#7e0000 3.5px,#8a0000 9.5px,#9c0000 17.5px,#cd0000 32.5px,#c70000 47.5px,#af0000 70.5px,#900000 116.5px,#800000 150.5px,#780000)"></i><i style="left:176px;background:linear-gradient(#610000,#7e0000 3.5px,#8a0000 9.5px,#9c0000 17.5px,#c00 32.5px,#c60000 47.5px,#ad0000 71.5px,#900000 115.5px,#810000 145.5px,#700)"></i><i style="left:177px;background:linear-gradient(#610000,#7e0000 3.5px,#8a0000 9.5px,#9c0000 17.5px,#cb0000 32.5px,#c60000 47.5px,#ac0000 72.5px,#910000 114.5px,#820000 142.5px,#700)"></i><i style="left:178px;background:linear-gradient(#610000,#7e0000 3.5px,#8a0000 9.5px,#9c0000 17.5px,#cb0000 32.5px,#c50000 47.5px,#a00 73.5px,#910000 113.5px,#820000 140.5px,#760000)"></i><i style="left:179px;background:linear-gradient(#610000,#7e0000 3.5px,#8a0000 9.5px,#9c0000 17.5px,#ca0000 32.5px,#c30000 48.5px,#a00 73.5px,#900000 113.5px,#810000 140.5px,#760000)"></i><i style="left:180px;background:linear-gradient(#610000,#7e0000 3.5px,#8a0000 9.5px,#9c0000 17.5px,#c90000 32.5px,#c20000 48.5px,#a80000 74.5px,#900000 112.5px,#810000 138.5px,#750000)"></i><i style="left:181px;background:linear-gradient(#610000,#7e0000 3.5px,#8a0000 9.5px,#9c0000 17.5px,#c80000 32.5px,#c20000 48.5px,#a80000 74.5px,#900000 112.5px,#800000 138.5px,#750000)"></i><i style="left:182px;background:linear-gradient(#610000,#7e0000 3.5px,#8a0000 9.5px,#9c0000 17.5px,#c60000 31.5px,#c70000 40.5px,#b50000 59.5px,#a20000 83.5px,#8b0000 117.5px,#7d0000 147.5px,#750000)"></i><i style="left:183px;background:linear-gradient(#610000,#7e0000 3.5px,#8a0000 9.5px,#9c0000 17.5px,#c60000 31.5px,#c60000 40.5px,#b30000 60.5px,#a10000 86.5px,#800000 135.5px,#740000)"></i><i style="left:184px;background:linear-gradient(#610000,#7e0000 3.5px,#8a0000 9.5px,#9c0000 17.5px,#c50000 31.5px,#c50000 41.5px,#af0000 63.5px,#8c0000 115.5px,#7e0000 141.5px,#740000)"></i><i style="left:185px;background:linear-gradient(#610000,#7e0000 3.5px,#8a0000 9.5px,#9c0000 17.5px,#c40000 31.5px,#c40000 41.5px,#ae0000 63.5px,#8b0000 115.5px,#7d0000 142.5px,#730000)"></i><i style="left:186px;background:linear-gradient(#610000,#7e0000 3.5px,#8a0000 9.5px,#9b0000 17.5px,#c40000 31.5px,#c30000 41.5px,#ae0000 63.5px,#8b0000 115.5px,#7d0000 142.5px,#730000)"></i><i style="left:187px;background:linear-gradient(#600000,#7e0000 3.5px,#8a0000 9.5px,#9b0000 17.5px,#c30000 31.5px,#c20000 42.5px,#a30000 77.5px,#8c0000 113.5px,#7d0000 139.5px,#730000)"></i><i style="left:188px;background:linear-gradient(#600000,#7e0000 3.5px,#8a0000 9.5px,#9b0000 17.5px,#c30000 31.5px,#c20000 42.5px,#a30000 77.5px,#8b0000 114.5px,#7c0000 142.5px,#720000)"></i><i style="left:189px;background:linear-gradient(#600000,#7e0000 3.5px,#8a0000 9.5px,#9b0000 17.5px,#c20000 31.5px,#c10000 42.5px,#a20000 77.5px,#8a0000 115.5px,#7b0000 145.5px,#720000)"></i><i style="left:190px;background:linear-gradient(#600000,#7e0000 3.5px,#8b0000 10.5px,#9e0000 18.5px,#c20000 31.5px,#c10000 42.5px,#a20000 77.5px,#800 117.5px,#790000 153.5px,#720000)"></i><i style="left:191px;background:linear-gradient(#600000,#7e0000 3.5px,#8b0000 10.5px,#9e0000 18.5px,#c10000 31.5px,#c00000 42.5px,#a10000 78.5px,#7d0000 137.5px,#710000)"></i><i style="left:192px;background:linear-gradient(#600000,#7e0000 3.5px,#8b0000 10.5px,#9e0000 18.5px,#c10000 31.5px,#bf0000 43.5px,#a00000 78.5px,#7d0000 137.5px,#710000)"></i><i style="left:193px;background:linear-gradient(#600000,#7e0000 3.5px,#8b0000 10.5px,#9e0000 18.5px,#bf0000 30.5px,#c20000 37.5px,#b00000 59.5px,#9f0000 80.5px,#7d0000 137.5px,#710000)"></i><i style="left:194px;background:linear-gradient(#600000,#7e0000 3.5px,#8b0000 10.5px,#9e0000 18.5px,#bf0000 30.5px,#c10000 38.5px,#af0000 60.5px,#9c0000 85.5px,#7d0000 137.5px,#700000)"></i><i style="left:195px;background:linear-gradient(#600000,#7e0000 3.5px,#8b0000 10.5px,#9e0000 18.5px,#be0000 30.5px,#c10000 38.5px,#ae0000 60.5px,#9b0000 86.5px,#7d0000 137.5px,#700000 195.5px,#700000)"></i><i style="left:196px;background:linear-gradient(#600000,#7e0000 3.5px,#8b0000 10.5px,#9e0000 18.5px,#be0000 30.5px,#c00000 38.5px,#ae0000 60.5px,#9b0000 86.5px,#7c0000 138.5px,#700000)"></i><i style="left:197px;background:linear-gradient(#600000,#7e0000 3.5px,#8b0000 10.5px,#9e0000 18.5px,#bd0000 30.5px,#c00000 38.5px,#ae0000 60.5px,#9a0000 87.5px,#7c0000 138.5px,#6f0000)"></i><i style="left:198px;background:linear-gradient(#600000,#7e0000 3.5px,#8b0000 10.5px,#9e0000 18.5px,#bd0000 30.5px,#bf0000 38.5px,#ad0000 60.5px,#900 88.5px,#7c0000 138.5px,#6f0000 195.5px,#6f0000)"></i><i style="left:199px;background:linear-gradient(#600000,#7e0000 3.5px,#8b0000 10.5px,#9e0000 18.5px,#b00 29.5px,#c00000 36.5px,#ae0000 59.5px,#9b0000 84.5px,#7c0000 139.5px,#6f0000)"></i><i style="left:200px;background:linear-gradient(#600000,#7e0000 3.5px,#8b0000 10.5px,#9e0000 18.5px,#b00 29.5px,#bf0000 36.5px,#ae0000 59.5px,#9a0000 84.5px,#7b0000 139.5px,#6e0000 195.5px,#6e0000)"></i><i style="left:201px;background:linear-gradient(#600000,#7e0000 3.5px,#8b0000 10.5px,#9e0000 18.5px,#ba0000 29.5px,#bf0000 36.5px,#ae0000 59.5px,#900 85.5px,#7b0000 140.5px,#6e0000)"></i><i style="left:202px;background:linear-gradient(#600000,#7e0000 3.5px,#8b0000 10.5px,#9e0000 18.5px,#ba0000 29.5px,#bf0000 36.5px,#ae0000 59.5px,#900 86.5px,#7b0000 140.5px,#6e0000)"></i><i style="left:203px;background:linear-gradient(#600000,#7e0000 3.5px,#8b0000 10.5px,#9e0000 18.5px,#ba0000 29.5px,#be0000 36.5px,#ad0000 59.5px,#970000 88.5px,#7b0000 141.5px,#6e0000)"></i><i style="left:204px;background:linear-gradient(#600000,#7e0000 3.5px,#8b0000 10.5px,#9e0000 18.5px,#ba0000 29.5px,#be0000 37.5px,#ad0000 59.5px,#960000 89.5px,#7a0000 141.5px,#6d0000)"></i><i style="left:205px;background:linear-gradient(#600000,#7e0000 3.5px,#8b0000 10.5px,#9e0000 18.5px,#b90000 29.5px,#bd0000 37.5px,#ad0000 59.5px,#950000 90.5px,#7a0000 142.5px,#6d0000)"></i></div>
<div class="fld" style="left:276px;top:11px;width:206px;height:197px"><i style="left:0px;background:linear-gradient(#500000,#520000 8.5px,#540000 35.5px,#760000 81.5px,#870000 98.5px,#940000 146.5px,#a00000 188.5px,#a40000)"></i><i style="left:1px;background:linear-gradient(#4f0000,#500000 7.5px,#4e0000 30.5px,#710000 81.5px,#830000 101.5px,#8d0000 177.5px,#9a0000)"></i><i style="left:2px;background:linear-gradient(#4d0000,#4f0000 6.5px,#490000 24.5px,#580000 53.5px,#6d0000 82.5px,#7f0000 104.5px,#810000 174.5px,#910000)"></i><i style="left:3px;background:linear-gradient(#4c0000,#4d0000 6.5px,#460000 21.5px,#4d0000 42.5px,#690000 83.5px,#7c0000 107.5px,#750000 161.5px,#7d0000 184.5px,#870000)"></i><i style="left:4px;background:linear-gradient(#4b0000,#4c0000 6.5px,#430000 20.5px,#490000 40.5px,#670000 84.5px,#780000 108.5px,#6e0000 142.5px,#700000 176.5px,#7d0000)"></i><i style="left:5px;background:linear-gradient(#4a0000,#4c0000 5.5px,#400000 19.5px,#450000 38.5px,#690000 88.5px,#760000 110.5px,#6b0000 139.5px,#6d0000 178.5px,#700)"></i><i style="left:6px;background:linear-gradient(#490000,#4b0000 5.5px,#3e0000 19.5px,#410000 38.5px,#740000 108.5px,#6a0000 141.5px,#6d0000 179.5px,#760000)"></i><i style="left:7px;background:linear-gradient(#480000,#4a0000 5.5px,#3c0000 18.5px,#3d0000 36.5px,#6e0000 100.5px,#700000 115.5px,#690000 139.5px,#6b0000 178.5px,#750000)"></i><i style="left:8px;background:linear-gradient(#480000,#4a0000 5.5px,#3a0000 17.5px,#390000 35.5px,#4a0000 54.5px,#700000 108.5px,#680000 142.5px,#6b0000 179.5px,#750000)"></i><i style="left:9px;background:linear-gradient(#480000,#4a0000 5.5px,#3a0000 15.5px,#360000 32.5px,#410000 48.5px,#580000 72.5px,#6f0000 109.5px,#670000 141.5px,#6a0000 178.5px,#750000)"></i><i style="left:10px;background:linear-gradient(#480000,#490000 5.5px,#3b0000 13.5px,#340000 31.5px,#3e0000 47.5px,#570000 72.5px,#6e0000 110.5px,#600 140.5px,#6a0000 178.5px,#740000)"></i><i style="left:11px;background:linear-gradient(#480000,#490000 5.5px,#3b0000 12.5px,#340000 31.5px,#3f0000 48.5px,#5c0000 79.5px,#6d0000 110.5px,#600 140.5px,#690000 178.5px,#740000)"></i><i style="left:12px;background:linear-gradient(#480000,#490000 5.5px,#3c0000 11.5px,#340000 31.5px,#3f0000 48.5px,#5c0000 80.5px,#6d0000 110.5px,#650000 139.5px,#690000 178.5px,#740000)"></i><i style="left:13px;background:linear-gradient(#480000,#490000 5.5px,#3b0000 11.5px,#350000 32.5px,#3f0000 48.5px,#5c0000 80.5px,#6d0000 110.5px,#650000 138.5px,#690000 178.5px,#740000)"></i><i style="left:14px;background:linear-gradient(#480000,#490000 5.5px,#3b0000 11.5px,#350000 32.5px,#3f0000 48.5px,#5d0000 80.5px,#6d0000 110.5px,#650000 137.5px,#690000 178.5px,#740000)"></i><i style="left:15px;background:linear-gradient(#480000,#490000 5.5px,#3b0000 11.5px,#350000 32.5px,#3f0000 48.5px,#5d0000 79.5px,#6e0000 110.5px,#650000 137.5px,#690000 178.5px,#740000)"></i><i style="left:16px;background:linear-gradient(#480000,#490000 5.5px,#3c0000 11.5px,#340000 31.5px,#3e0000 47.5px,#5e0000 78.5px,#700000 110.5px,#600 137.5px,#690000 176.5px,#760000)"></i><i style="left:17px;background:linear-gradient(#480000,#490000 5.5px,#3b0000 12.5px,#350000 31.5px,#410000 48.5px,#610000 80.5px,#710000 110.5px,#670000 137.5px,#690000 174.5px,#7b0000)"></i><i style="left:18px;background:linear-gradient(#480000,#490000 5.5px,#3b0000 13.5px,#340000 30.5px,#490000 54.5px,#650000 83.5px,#730000 111.5px,#680000 138.5px,#6a0000 173.5px,#820000)"></i><i style="left:19px;background:linear-gradient(#480000,#4a0000 5.5px,#3b0000 14.5px,#350000 30.5px,#670000 84.5px,#750000 111.5px,#6a0000 139.5px,#6b0000 172.5px,#840000 193.5px,#800)"></i><i style="left:20px;background:linear-gradient(#480000,#4a0000 5.5px,#3b0000 16.5px,#380000 31.5px,#5e0000 70.5px,#700 108.5px,#6b0000 145.5px,#6d0000 172.5px,#870000 192.5px,#8e0000)"></i><i style="left:21px;background:linear-gradient(#480000,#4a0000 5.5px,#3b0000 18.5px,#3b0000 31.5px,#4d0000 52.5px,#6b0000 83.5px,#7a0000 111.5px,#6d0000 145.5px,#6e0000 171.5px,#860000 189.5px,#930000)"></i><i style="left:22px;background:linear-gradient(#480000,#4a0000 5.5px,#3d0000 20.5px,#3f0000 32.5px,#4d0000 47.5px,#5b0000 65.5px,#6d0000 82.5px,#7c0000 111.5px,#6f0000 150.5px,#700000 171.5px,#800 188.5px,#980000)"></i><i style="left:23px;background:linear-gradient(#480000,#4a0000 6.5px,#400000 21.5px,#430000 32.5px,#500000 45.5px,#5c0000 64.5px,#700000 82.5px,#7f0000 110.5px,#6f0000 164.5px,#790000 177.5px,#9e0000)"></i><i style="left:24px;background:linear-gradient(#490000,#4b0000 6.5px,#430000 22.5px,#470000 32.5px,#530000 43.5px,#5e0000 63.5px,#740000 82.5px,#840000 110.5px,#720000 166.5px,#7f0000 179.5px,#a40000)"></i><i style="left:25px;background:linear-gradient(#4a0000,#4c0000 6.5px,#480000 24.5px,#520000 35.5px,#630000 64.5px,#7a0000 84.5px,#800 110.5px,#750000 166.5px,#830000 179.5px,#a00)"></i><i style="left:26px;background:linear-gradient(#4b0000,#4e0000 6.5px,#500000 25.5px,#5e0000 45.5px,#670000 64.5px,#820000 88.5px,#8e0000 110.5px,#830000 144.5px,#7b0000 166.5px,#890000 179.5px,#b10000)"></i><i style="left:27px;background:linear-gradient(#4d0000,#510000 6.5px,#560000 22.5px,#600 49.5px,#720000 67.5px,#910000 99.5px,#950000 118.5px,#8c0000 144.5px,#820000 165.5px,#8d0000 177.5px,#b70000)"></i><i style="left:28px;background:linear-gradient(#4f0000,#540000 7.5px,#5e0000 22.5px,#830000 77.5px,#9a0000 100.5px,#9c0000 126.5px,#940000 146.5px,#8a0000 165.5px,#950000 177.5px,#bd0000)"></i><i style="left:29px;background:linear-gradient(#510000,#580000 10.5px,#6f0000 31.5px,#8e0000 80.5px,#a10000 97.5px,#a60000 116.5px,#a30000 140.5px,#920000 163.5px,#9a0000 175.5px,#c30000)"></i><i style="left:30px;background:linear-gradient(#540000,#6b0000 19.5px,#780000 31.5px,#870000 50.5px,#920000 70.5px,#9c0000 81.5px,#af0000 94.5px,#b40000 115.5px,#b00000 140.5px,#9b0000 162.5px,#a20000 174.5px,#c90000)"></i><i style="left:31px;background:linear-gradient(#560000,#700000 17.5px,#830000 31.5px,#960000 50.5px,#a20000 66.5px,#ab0000 79.5px,#be0000 92.5px,#c50000 113.5px,#bd0000 139.5px,#a50000 163.5px,#ae0000 176.5px,#cd0000 195.5px,#cf0000)"></i><i style="left:32px;background:linear-gradient(#590000,#8a0000 27.5px,#b20000 60.5px,#b00 79.5px,#d00000 92.5px,#d70000 114.5px,#cb0000 138.5px,#b10000 161.5px,#b60000 176.5px,#cf0000 193.5px,#d50000)"></i><i style="left:33px;background:linear-gradient(#5c0000,#8e0000 22.5px,#b80000 50.5px,#ca0000 79.5px,#de0000 92.5px,#e30000 115.5px,#d80000 138.5px,#b00 160.5px,#be0000 175.5px,#d40000 192.5px,#db0000)"></i><i style="left:34px;background:linear-gradient(#610000,#8f0000 16.5px,#be0000 41.5px,#d00000 63.5px,#d90000 80.5px,#e90000 93.5px,#eb0000 121.5px,#e30000 138.5px,#c50000 161.5px,#ca0000 178.5px,#e20000)"></i><i style="left:35px;background:linear-gradient(#6a0000,#820000 7.5px,#980000 14.5px,#bd0000 32.5px,#cf0000 40.5px,#e00000 68.5px,#ec0000 85.5px,#f30000 103.5px,#f00000 137.5px,#d30000 161.5px,#d80000 180.5px,#eb0000)"></i><i style="left:36px;background:linear-gradient(#750000,#900000 7.5px,#a20000 12.5px,#c30000 30.5px,#dc0000 38.5px,#ef0000 73.5px,#f90000 96.5px,#fa0000 137.5px,#e10000 163.5px,#e90000 184.5px,#f50000)"></i><i style="left:37px;background:linear-gradient(#820000,#a00000 7.5px,#b00000 12.5px,#c80000 27.5px,#e80000 38.5px,#f50000 62.5px,#ff0200 86.5px,#ff0a00 135.5px,#fc0000 148.5px,#f10000 165.5px,#fa0000 191.5px,#fe0000)"></i><i style="left:38px;background:linear-gradient(#900000,#b70000 9.5px,#ca0000 22.5px,#f20000 38.5px,#f00 62.5px,#ff0600 80.5px,#ff1400 92.5px,#ff1b00 135.5px,#ff0100 162.5px,#ff0700 195.5px,#ff0700)"></i><i style="left:39px;background:linear-gradient(#9f0000,#c90000 10.5px,#d90000 21.5px,#f30000 31.5px,#ff0200 42.5px,#ff0e00 58.5px,#f10 79.5px,#ff2800 91.5px,#ff3200 134.5px,#ff1300 162.5px,#ff1300)"></i><i style="left:40px;background:linear-gradient(#b40000,#e30000 11.5px,#ff0100 22.5px,#ff1300 27.5px,#ff1800 46.5px,#ff2300 63.5px,#ff2900 79.5px,#f40 91.5px,#ff5400 133.5px,#ff4100 146.5px,#ff2a00 160.5px,#ff2800)"></i><i style="left:41px;background:linear-gradient(#c40000,#e10000 5.5px,#fd0000 9.5px,#ff2f00 21.5px,#ff4700 26.5px,#ff4700 30.5px,#ff3700 38.5px,#ff4100 70.5px,#ff4d00 79.5px,#ff6800 88.5px,#ff6f00 101.5px,#ff7b00 133.5px,#ff6a00 146.5px,#ff4b00 162.5px,#ff4200)"></i><i style="left:42px;background:linear-gradient(#d30000,#eb0000 4.5px,#fe0000 6.5px,#ff2300 9.5px,#ff3a00 13.5px,#ff5700 20.5px,#ff6e00 25.5px,#ff7200 29.5px,#ff6100 38.5px,#ff6f00 66.5px,#ff8000 80.5px,#f90 90.5px,#ffa700 117.5px,#ffb000 132.5px,#ffa300 142.5px,#ff7900 160.5px,#f60 190.5px,#ff6500)"></i><i style="left:43px;background:linear-gradient(#d00,#ff0200 5.5px,#ff3b00 9.5px,#ff5d00 13.5px,#ff9800 26.5px,#ff9700 30.5px,#ff8400 38.5px,#ff8d00 46.5px,#ffab00 61.5px,#ffc900 81.5px,#ffdc00 91.5px,#ffe300 127.5px,#ffdf00 138.5px,#ffb800 155.5px,#ffa500 164.5px,#ff8f00 190.5px,#ff8d00)"></i><i style="left:44px;background:linear-gradient(#e80000,#fa0000 3.5px,#ff0400 4.5px,#ff5200 9.5px,#f60 11.5px,#ffb600 25.5px,#ffbc00 28.5px,#ffb800 41.5px,#ffd800 62.5px,#ffeb00 80.5px,#fffe00 92.5px,#ffff06 96.5px,#ffff18 106.5px,#ffff15 116.5px,#fffe00 129.5px,#fe0 145.5px,#ffcf00 168.5px,#ffba00)"></i><i style="left:45px;background:linear-gradient(#f10000,#fc0000 2.5px,#ff0400 3.5px,#ff1d00 5.5px,#ff6300 9.5px,#ff8700 14.5px,#ffc400 24.5px,#ffcf00 28.5px,#fff000 69.5px,#ff0 80.5px,#ff4 88.5px,#ffff58 92.5px,#ffff75 103.5px,#ffff7a 111.5px,#ffff6a 122.5px,#ffff47 135.5px,#ffff17 144.5px,#fffe00 148.5px,#ffe700 170.5px,#ffd600)"></i><i style="left:46px;background:linear-gradient(#f40000,#f00 2.5px,#ff1400 4.5px,#ff4800 7.5px,#ff5b00 8.5px,#ff7200 10.5px,#ffc600 22.5px,#ffdc00 27.5px,#fff400 63.5px,#ff0 70.5px,#ffff74 86.5px,#ffff91 92.5px,#ffffaf 104.5px,#ffffb2 112.5px,#ffffa0 125.5px,#ff8 135.5px,#ffff56 146.5px,#ffff08 161.5px,#ff0 163.5px,#ffeb00)"></i><i style="left:47px;background:linear-gradient(#f40000,#f00 2.5px,#ff1400 4.5px,#ff4700 7.5px,#ff6800 9.5px,#ffa100 16.5px,#ffd100 23.5px,#ffe200 27.5px,#fff000 43.5px,#fffc00 63.5px,#ffff01 65.5px,#ffff53 75.5px,#ffff9a 86.5px,#ffffb6 93.5px,#ffffd0 104.5px,#ffffd2 114.5px,#ffffc0 130.5px,#ffffa6 141.5px,#ffff7a 153.5px,#ffff47 167.5px,#ffff01 191.5px,#fffd00)"></i><i style="left:48px;background:linear-gradient(#f40000,#f00 2.5px,#ff1400 4.5px,#ff4500 7.5px,#f60 9.5px,#ffa800 17.5px,#ffd700 24.5px,#ffe500 28.5px,#fff400 41.5px,#ff0 61.5px,#ffff19 65.5px,#ffff71 76.5px,#ffffb4 86.5px,#ffffcf 92.5px,#ffffe9 105.5px,#ffffe8 116.5px,#ffffcb 140.5px,#ffff4f)"></i><i style="left:49px;background:linear-gradient(#f40000,#f00 2.5px,#ff1300 4.5px,#f40 7.5px,#ff6400 9.5px,#ffbd00 20.5px,#ffe100 26.5px,#fff400 37.5px,#ff0 57.5px,#ffff17 62.5px,#ffff98 79.5px,#ffffd1 88.5px,#ffffed 98.5px,#fffffb 108.5px,#fffff0 123.5px,#ffffc4 169.5px,#ff9)"></i><i style="left:50px;background:linear-gradient(#f40000,#f00 2.5px,#ff1300 4.5px,#ff6200 9.5px,#ffca00 22.5px,#ffe100 26.5px,#fff500 36.5px,#ffff02 53.5px,#ffff1a 60.5px,#ffff43 66.5px,#ffff94 77.5px,#ffffd1 87.5px,#ffffea 95.5px,#fffffe 106.5px,#fffffa 123.5px,#ffd 171.5px,#ffffc1 193.5px,#ffffbc)"></i><i style="left:51px;background:linear-gradient(#f40000,#f00 2.5px,#ff2000 5.5px,#ff5e00 9.5px,#ffc900 22.5px,#ffe100 26.5px,#fff600 36.5px,#ffff03 50.5px,#ffff1f 59.5px,#ffff4a 66.5px,#ffff96 77.5px,#ffffd0 87.5px,#ffffea 96.5px,#fffffc 107.5px,#fffffa 143.5px,#ffffd9 192.5px,#ffffd5)"></i><i style="left:52px;background:linear-gradient(#f30000,#fe0000 2.5px,#ff1000 4.5px,#ff5900 9.5px,#ff7400 12.5px,#ffd000 24.5px,#ffe300 28.5px,#fff800 38.5px,#ffff02 49.5px,#ffff1c 58.5px,#ffff41 65.5px,#ffffc8 86.5px,#ffffde 92.5px,#fffff6 106.5px,#fff 133.5px,#ffffeb 188.5px,#ffffe6)"></i><i style="left:53px;background:linear-gradient(#f10000,#ff0200 3.5px,#ff1700 5.5px,#ff5e00 10.5px,#ffa400 20.5px,#ffc500 24.5px,#ffe200 30.5px,#fff500 38.5px,#ffff03 54.5px,#ffff1e 61.5px,#ffff8d 78.5px,#ffffce 88.5px,#ffffe0 95.5px,#fffff3 110.5px,#fffffd 133.5px,#fffff7 183.5px,#fffff2)"></i><i style="left:54px;background:linear-gradient(#e00,#fd0000 3.5px,#ff0500 4.5px,#ff5400 10.5px,#ff6900 13.5px,#ff8b00 19.5px,#ffc500 26.5px,#ffe500 33.5px,#fff300 40.5px,#ff0 58.5px,#ffff19 63.5px,#ffffc5 87.5px,#ffffd5 91.5px,#ffffe9 108.5px,#fffffa 133.5px,#fffffd 177.5px,#fffff7)"></i><i style="left:55px;background:linear-gradient(#ec0000,#f00 4.5px,#ff3f00 10.5px,#ff6500 16.5px,#ff7c00 20.5px,#ffbe00 27.5px,#ffe300 34.5px,#fff000 40.5px,#ffff01 61.5px,#ffff40 69.5px,#ffffa2 82.5px,#ffffc6 88.5px,#ffffd3 93.5px,#fffff7 132.5px,#fffffe 171.5px,#fffffb)"></i><i style="left:56px;background:linear-gradient(#ec0000,#ff0200 5.5px,#ff4b00 17.5px,#ff8200 23.5px,#ffb000 27.5px,#ffce00 31.5px,#ffe600 36.5px,#fff300 45.5px,#ffff03 60.5px,#ffff42 68.5px,#ffff7f 76.5px,#ffffba 86.5px,#ffffce 92.5px,#fffff1 126.5px,#fffffc 178.5px,#fffffd)"></i><i style="left:57px;background:linear-gradient(#ed0000,#f00 4.5px,#ff6f00 20.5px,#ff8e00 23.5px,#ffbc00 27.5px,#ffe400 34.5px,#fff500 41.5px,#ff0 50.5px,#ffff29 59.5px,#ffff96 78.5px,#ffffc8 89.5px,#ffffdc 101.5px,#fffff1 130.5px,#fffffb 187.5px,#fffffe)"></i><i style="left:58px;background:linear-gradient(#f00000,#fe0000 3.5px,#f20 7.5px,#ff6000 14.5px,#ff8100 19.5px,#ffc400 25.5px,#ffde00 29.5px,#fffb00 37.5px,#ff0 39.5px,#ffff2a 46.5px,#ffff98 75.5px,#ffffd1 89.5px,#ffffe4 104.5px,#ffe 133.5px,#fffff0 176.5px,#fffffd)"></i><i style="left:59px;background:linear-gradient(#f30000,#fe0000 2.5px,#ff1a00 5.5px,#ff5b00 10.5px,#ffa900 19.5px,#ffd800 24.5px,#fe0 28.5px,#fffd00 32.5px,#ffff05 33.5px,#ffff2d 36.5px,#ffff45 39.5px,#ffff63 46.5px,#ffffbd 79.5px,#ffffdb 88.5px,#ffffe8 102.5px,#ffffea 142.5px,#ffffe6 171.5px,#fffff9)"></i><i style="left:60px;background:linear-gradient(#f70000,#ff0500 2.5px,#ff2600 5.5px,#f60 9.5px,#ffc400 18.5px,#ffed00 24.5px,#fffe00 28.5px,#ffff46 33.5px,#ffff6c 37.5px,#ffff89 43.5px,#ffffa3 54.5px,#ffffe9 90.5px,#ffffec 118.5px,#ffffdf 149.5px,#ffffda 169.5px,#ffffeb 190.5px,#fffff2)"></i><i style="left:61px;background:linear-gradient(#fa0000,#ff0100 1.5px,#ff2100 4.5px,#ff6500 8.5px,#ffbf00 15.5px,#ffe600 20.5px,#ff0 25.5px,#ffff34 28.5px,#ffff67 32.5px,#ffff8c 36.5px,#ffffa3 41.5px,#ffffc1 53.5px,#ffffd9 70.5px,#fffff1 91.5px,#ffe 120.5px,#ffffd9 147.5px,#ffffce 164.5px,#ffffd8 183.5px,#ffffea)"></i><i style="left:62px;background:linear-gradient(#fc0000,#ff0500 1.5px,#ff2700 4.5px,#ff6d00 8.5px,#ffc100 14.5px,#ffe400 18.5px,#fffc00 22.5px,#ffff0a 23.5px,#ffff4d 26.5px,#ffff75 29.5px,#ffff9b 33.5px,#ffffb8 38.5px,#ffffd1 48.5px,#ffffeb 72.5px,#fffff8 93.5px,#ffffed 121.5px,#ffffd4 145.5px,#ffffc2 162.5px,#ffffc9 180.5px,#ffd)"></i><i style="left:63px;background:linear-gradient(#f00,#ff2100 3.5px,#ff4000 5.5px,#f60 7.5px,#ffc000 13.5px,#ffe600 17.5px,#ffff03 21.5px,#ffff52 24.5px,#ffff79 26.5px,#ffff94 28.5px,#ffffba 33.5px,#ffffd1 38.5px,#ffffe9 52.5px,#fffffa 77.5px,#fffffb 99.5px,#ffffe3 129.5px,#ffffb8 160.5px,#ffffba 182.5px,#ffffc9)"></i><i style="left:64px;background:linear-gradient(#ff0200,#ff2600 3.5px,#ff4600 5.5px,#ff7a00 8.5px,#ffc500 13.5px,#ffe400 16.5px,#ffff02 20.5px,#ffff56 23.5px,#ffff82 25.5px,#ffff94 26.5px,#ffffb2 29.5px,#ffffd1 34.5px,#ffffe2 40.5px,#fffff6 60.5px,#fff 79.5px,#fffffb 99.5px,#ffffd0 136.5px,#ffffac 157.5px,#ffffa8 173.5px,#ffffb1 195.5px,#ffffb2)"></i><i style="left:65px;background:linear-gradient(#ff0300,#ff2700 3.5px,#ff8900 9.5px,#ffc500 13.5px,#ffe400 16.5px,#ffff01 20.5px,#ff5 23.5px,#ffff82 25.5px,#ffff93 26.5px,#ffffb2 29.5px,#ffffd2 34.5px,#ffffe0 39.5px,#fffff7 77.5px,#fffff4 98.5px,#ffffd6 120.5px,#ff9 155.5px,#ffff94 169.5px,#ffff9c 194.5px,#ffff9e)"></i><i style="left:66px;background:linear-gradient(#fe0000,#f20 3.5px,#ff5100 6.5px,#ff7000 8.5px,#ffc600 14.5px,#ffe400 17.5px,#fffe00 21.5px,#ffff4f 24.5px,#ffff78 26.5px,#ffff93 28.5px,#ffffbc 33.5px,#ffffcf 37.5px,#ffffdb 64.5px,#ffffe6 76.5px,#ffffe2 100.5px,#ffffcf 115.5px,#ffffa4 132.5px,#ffff7d 156.5px,#ffff79 172.5px,#ffff83 192.5px,#ffff87)"></i><i style="left:67px;background:linear-gradient(#f60000,#fe0000 1.5px,#ff2300 4.5px,#ff6100 8.5px,#ff9400 12.5px,#ffc100 15.5px,#ffe600 19.5px,#ff0 23.5px,#ff3 25.5px,#ffff59 27.5px,#ffff95 32.5px,#ffffb0 36.5px,#ffffb6 39.5px,#ffb 62.5px,#ffffd0 74.5px,#ffc 103.5px,#ffffc0 113.5px,#ffff89 131.5px,#ffff63 153.5px,#ffff5c 167.5px,#ff6 188.5px,#ffff70)"></i><i style="left:68px;background:linear-gradient(#ec0000,#fc0000 2.5px,#ff1300 4.5px,#f60 10.5px,#ff8b00 13.5px,#ffc300 17.5px,#ffe500 21.5px,#fffc00 25.5px,#ffff0a 26.5px,#ffff2e 28.5px,#ffff65 32.5px,#ffff83 35.5px,#ffff91 38.5px,#ffff89 48.5px,#ffff80 59.5px,#ffff8d 66.5px,#ffffa4 76.5px,#ffffad 93.5px,#ffffa1 111.5px,#ffff8a 119.5px,#ffff67 129.5px,#ffff49 152.5px,#ff4 169.5px,#ffff51 190.5px,#ffff58)"></i><i style="left:69px;background:linear-gradient(#df0000,#ff0200 4.5px,#ff5100 10.5px,#ffc200 19.5px,#ffe900 24.5px,#fffe00 29.5px,#ff4 34.5px,#ffff5c 37.5px,#ffff5f 40.5px,#ffff4e 47.5px,#ffff31 56.5px,#ffff31 61.5px,#ffff4c 69.5px,#ffff65 77.5px,#ffff79 89.5px,#ffff74 110.5px,#ffff63 117.5px,#ffff3c 128.5px,#ffff31 146.5px,#ffff31 174.5px,#ffff41)"></i><i style="left:70px;background:linear-gradient(#d50000,#fd0000 5.5px,#ff1f00 8.5px,#ff6a00 14.5px,#ffc000 22.5px,#ffe200 27.5px,#fffe00 36.5px,#ffff08 39.5px,#fffd00 47.5px,#fff900 62.5px,#ffff02 69.5px,#ffff1f 76.5px,#ffff3d 88.5px,#ffff42 110.5px,#ffff35 116.5px,#ffff0f 127.5px,#ffff0a 133.5px,#ffff2b)"></i><i style="left:71px;background:linear-gradient(#c80000,#fd0000 7.5px,#ff2600 11.5px,#ff6000 16.5px,#ff9400 22.5px,#ffc000 27.5px,#ffe200 34.5px,#ffea00 39.5px,#ffea00 63.5px,#fffe00 88.5px,#ffff04 111.5px,#fffc00 119.5px,#fff800 137.5px,#ffff02 159.5px,#ffff14 190.5px,#ffff14)"></i><i style="left:72px;background:linear-gradient(#b90000,#ff0100 10.5px,#ff7500 23.5px,#ffb800 32.5px,#ffcb00 36.5px,#ffd100 43.5px,#ffd700 63.5px,#ffed00 85.5px,#fe0 120.5px,#ffef00 141.5px,#fffc00 170.5px,#fffe00)"></i><i style="left:73px;background:linear-gradient(#ab0000,#fa0000 12.5px,#f00 13.5px,#ff3400 20.5px,#ff6700 25.5px,#ff9f00 35.5px,#fa0 40.5px,#ffb900 63.5px,#ffd900 92.5px,#ffdf00 116.5px,#ffe200 140.5px,#fff400 166.5px,#fff900)"></i><i style="left:74px;background:linear-gradient(#9c0000,#e60000 11.5px,#fe0000 16.5px,#ff1900 20.5px,#ff5600 27.5px,#ff7100 33.5px,#ff8000 39.5px,#ff9700 67.5px,#ffc300 97.5px,#ffcb00 116.5px,#ffd000 138.5px,#ffe900 163.5px,#fff100)"></i><i style="left:75px;background:linear-gradient(#920000,#d90000 11.5px,#ff0300 20.5px,#ff3600 27.5px,#ff5d00 36.5px,#ff6900 47.5px,#ff7e00 75.5px,#ffa500 97.5px,#ffb500 115.5px,#ffc400 139.5px,#ffdf00 167.5px,#ffe900)"></i><i style="left:76px;background:linear-gradient(#890000,#a80000 5.5px,#c00 11.5px,#fd0000 22.5px,#f20 28.5px,#ff3c00 37.5px,#ff6a00 80.5px,#ff8f00 100.5px,#ffa300 121.5px,#ffb900 143.5px,#ffd100 168.5px,#ffe100)"></i><i style="left:77px;background:linear-gradient(#800000,#a30000 6.5px,#b00 10.5px,#ea0000 21.5px,#f00 25.5px,#ff1500 31.5px,#ff2700 43.5px,#f40 76.5px,#ff5c00 84.5px,#ff7100 93.5px,#ffb800 156.5px,#ffd800)"></i><i style="left:78px;background:linear-gradient(#790000,#a50000 8.5px,#b80000 12.5px,#d00 21.5px,#f60000 26.5px,#ff0200 31.5px,#ff0f00 42.5px,#ff1e00 70.5px,#ff2a00 78.5px,#ff5e00 91.5px,#ffc500 182.5px,#ffcf00)"></i><i style="left:79px;background:linear-gradient(#730000,#b30000 13.5px,#d20000 21.5px,#e00 27.5px,#f00 38.5px,#ff0e00 71.5px,#ff1a00 79.5px,#ff4b00 91.5px,#ff6400 108.5px,#ffc400 192.5px,#ffc700)"></i><i style="left:80px;background:linear-gradient(#6d0000,#b10000 15.5px,#c70000 21.5px,#e40000 27.5px,#f80000 36.5px,#ff0300 60.5px,#ff0d00 78.5px,#ff3c00 91.5px,#ff6a00 122.5px,#ffbe00)"></i><i style="left:81px;background:linear-gradient(#690000,#a30000 14.5px,#c30000 22.5px,#de0000 28.5px,#f40000 36.5px,#f00 60.5px,#ff0500 78.5px,#f30 92.5px,#f60 126.5px,#ffb300)"></i><i style="left:82px;background:linear-gradient(#600,#850000 8.5px,#b10000 20.5px,#da0000 29.5px,#f20000 37.5px,#fd0000 58.5px,#ff0100 79.5px,#ff2b00 92.5px,#ff6100 129.5px,#ff9600 181.5px,#ffa700)"></i><i style="left:83px;background:linear-gradient(#630000,#7b0000 7.5px,#930000 14.5px,#a80000 20.5px,#d40000 29.5px,#ef0000 37.5px,#fb0000 56.5px,#fd0000 79.5px,#ff0800 83.5px,#ff2400 92.5px,#ff4d00 120.5px,#ff6b00 150.5px,#ff9200 188.5px,#ff9c00)"></i><i style="left:84px;background:linear-gradient(#600000,#760000 7.5px,#8d0000 14.5px,#a00000 20.5px,#d20000 30.5px,#ed0000 37.5px,#f90000 55.5px,#fc0000 79.5px,#ff0600 83.5px,#f20 94.5px,#ff4300 118.5px,#ff6e00 163.5px,#ff9000)"></i><i style="left:85px;background:linear-gradient(#5d0000,#6e0000 6.5px,#850000 13.5px,#900 20.5px,#c30000 28.5px,#e70000 36.5px,#f20000 44.5px,#fd0000 80.5px,#ff2900 102.5px,#ff4700 131.5px,#ff8500)"></i><i style="left:86px;background:linear-gradient(#5b0000,#6a0000 6.5px,#800000 13.5px,#930000 20.5px,#e10000 35.5px,#ed0000 40.5px,#ff0100 82.5px,#ff2a00 107.5px,#ff7b00)"></i><i style="left:87px;background:linear-gradient(#590000,#600 6.5px,#7c0000 13.5px,#8d0000 20.5px,#e20000 36.5px,#ec0000 41.5px,#ff0200 83.5px,#ff2800 111.5px,#ff4600 150.5px,#ff6e00 193.5px,#ff7100)"></i><i style="left:88px;background:linear-gradient(#570000,#630000 6.5px,#760000 12.5px,#800 20.5px,#c30000 31.5px,#e00000 36.5px,#e90000 41.5px,#ff0200 84.5px,#f20 112.5px,#ff3500 142.5px,#f60 194.5px,#ff6700)"></i><i style="left:89px;background:linear-gradient(#500,#5c0000 5.5px,#720000 12.5px,#830000 20.5px,#ac0000 28.5px,#dc0000 36.5px,#e60000 41.5px,#ff0300 87.5px,#ff1c00 111.5px,#ff2800 139.5px,#ff5300 183.5px,#ff5d00)"></i><i style="left:90px;background:linear-gradient(#530000,#590000 5.5px,#6f0000 12.5px,#7f0000 20.5px,#a50000 28.5px,#d90000 36.5px,#e20000 40.5px,#ff0200 89.5px,#ff1700 110.5px,#ff1e00 138.5px,#ff4100 173.5px,#ff5000)"></i><i style="left:91px;background:linear-gradient(#520000,#570000 5.5px,#6c0000 12.5px,#7f0000 21.5px,#a00000 28.5px,#d50000 36.5px,#df0000 40.5px,#fd0000 85.5px,#ff0500 96.5px,#ff1200 110.5px,#ff1800 139.5px,#ff3400 170.5px,#ff4100)"></i><i style="left:92px;background:linear-gradient(#500000,#500 5.5px,#690000 12.5px,#7b0000 21.5px,#9a0000 28.5px,#d10000 36.5px,#db0000 40.5px,#fa0000 82.5px,#ff0300 97.5px,#ff0e00 112.5px,#ff1400 140.5px,#ff2a00 170.5px,#ff3200)"></i><i style="left:93px;background:linear-gradient(#4f0000,#530000 5.5px,#600 12.5px,#780000 21.5px,#960000 28.5px,#c80000 35.5px,#d50000 38.5px,#f80000 80.5px,#ff0300 100.5px,#ff0b00 118.5px,#ff1200 143.5px,#ff2100 170.5px,#ff2500)"></i><i style="left:94px;background:linear-gradient(#4e0000,#510000 5.5px,#650000 13.5px,#790000 22.5px,#980000 29.5px,#be0000 34.5px,#d10000 38.5px,#f50000 77.5px,#ff0300 104.5px,#ff0f00 145.5px,#ff1900 170.5px,#ff1a00)"></i><i style="left:95px;background:linear-gradient(#4d0000,#4f0000 5.5px,#630000 13.5px,#760000 22.5px,#940000 29.5px,#c00000 35.5px,#cf0000 39.5px,#f40000 80.5px,#ff0300 110.5px,#ff0c00 145.5px,#ff1300 170.5px,#ff1300)"></i><i style="left:96px;background:linear-gradient(#4c0000,#4d0000 5.5px,#620000 14.5px,#7a0000 24.5px,#900000 29.5px,#b60000 34.5px,#c80000 38.5px,#d80000 51.5px,#f40000 84.5px,#ff0100 113.5px,#ff0900 146.5px,#ff0f00 172.5px,#ff0f00)"></i><i style="left:97px;background:linear-gradient(#4a0000,#4c0000 5.5px,#620000 15.5px,#7b0000 25.5px,#8c0000 29.5px,#b80000 35.5px,#c60000 39.5px,#d80000 54.5px,#f40000 89.5px,#f00 113.5px,#ff0700 146.5px,#ff0c00 174.5px,#ff0c00)"></i><i style="left:98px;background:linear-gradient(#490000,#4a0000 5.5px,#790000 25.5px,#8f0000 30.5px,#b40000 35.5px,#c40000 40.5px,#da0000 59.5px,#f00 107.5px,#ff0400 145.5px,#ff0a00 175.5px,#ff0900)"></i><i style="left:99px;background:linear-gradient(#480000,#4b0000 6.5px,#7a0000 26.5px,#8c0000 30.5px,#b50000 36.5px,#c60000 43.5px,#e00000 69.5px,#f00 109.5px,#ff0400 149.5px,#ff0700)"></i><i style="left:100px;background:linear-gradient(#470000,#490000 6.5px,#7a0000 27.5px,#8f0000 31.5px,#b10000 36.5px,#c40000 44.5px,#db0000 66.5px,#f00 108.5px,#ff0500)"></i><i style="left:101px;background:linear-gradient(#460000,#460000 5.5px,#780000 27.5px,#920000 32.5px,#b10000 37.5px,#ca0000 50.5px,#f40000 95.5px,#f00 110.5px,#ff0300)"></i><i style="left:102px;background:linear-gradient(#450000,#450000 5.5px,#790000 28.5px,#b10000 38.5px,#c00 54.5px,#e70000 85.5px,#f00 108.5px,#ff0100)"></i><i style="left:103px;background:linear-gradient(#400,#400 5.5px,#760000 28.5px,#ad0000 38.5px,#c70000 52.5px,#e50000 85.5px,#f00 107.5px,#fe0000)"></i><i style="left:104px;background:linear-gradient(#430000,#420000 5.5px,#740000 28.5px,#a90000 38.5px,#c00000 49.5px,#d20000 67.5px,#e30000 85.5px,#fe0000 107.5px,#fd0000)"></i><i style="left:105px;background:linear-gradient(#420000,#420000 5.5px,#710000 28.5px,#a90000 39.5px,#bf0000 50.5px,#d10000 69.5px,#e30000 87.5px,#fe0000 107.5px,#fc0000)"></i><i style="left:106px;background:linear-gradient(#420000,#410000 5.5px,#6f0000 28.5px,#a50000 39.5px,#ba0000 48.5px,#cd0000 66.5px,#df0000 85.5px,#fc0000 107.5px,#fb0000)"></i><i style="left:107px;background:linear-gradient(#410000,#400000 5.5px,#6c0000 28.5px,#a20000 39.5px,#b60000 47.5px,#ca0000 64.5px,#db0000 84.5px,#fb0000 107.5px,#fa0000)"></i><i style="left:108px;background:linear-gradient(#400000,#410000 6.5px,#6a0000 28.5px,#9e0000 39.5px,#b50000 48.5px,#c80000 65.5px,#d90000 84.5px,#f90000 107.5px,#f90000)"></i><i style="left:109px;background:linear-gradient(#3f0000,#400000 6.5px,#670000 28.5px,#9b0000 39.5px,#b40000 49.5px,#c60000 66.5px,#d80000 84.5px,#f70000 107.5px,#f80000)"></i><i style="left:110px;background:linear-gradient(#3f0000,#3f0000 6.5px,#650000 28.5px,#980000 39.5px,#b40000 50.5px,#c50000 67.5px,#d60000 84.5px,#f50000 107.5px,#f70000)"></i><i style="left:111px;background:linear-gradient(#3e0000,#3e0000 6.5px,#620000 28.5px,#950000 39.5px,#b30000 51.5px,#c40000 69.5px,#d70000 86.5px,#f30000 107.5px,#f60000)"></i><i style="left:112px;background:linear-gradient(#3e0000,#3e0000 6.5px,#600000 28.5px,#910000 39.5px,#b30000 52.5px,#c40000 72.5px,#e60000 98.5px,#f10000 109.5px,#f50000)"></i><i style="left:113px;background:linear-gradient(#3d0000,#3f0000 7.5px,#5d0000 28.5px,#8e0000 39.5px,#b20000 53.5px,#ce0000 83.5px,#ef0000 108.5px,#f30000)"></i><i style="left:114px;background:linear-gradient(#3d0000,#3e0000 7.5px,#5b0000 28.5px,#8c0000 39.5px,#b00000 53.5px,#c00 83.5px,#ec0000 108.5px,#f20000)"></i><i style="left:115px;background:linear-gradient(#3c0000,#3f0000 8.5px,#590000 28.5px,#8c0000 40.5px,#af0000 54.5px,#c90000 83.5px,#e90000 108.5px,#e00 157.5px,#f10000)"></i><i style="left:116px;background:linear-gradient(#3c0000,#3f0000 9.5px,#570000 28.5px,#760000 35.5px,#8f0000 42.5px,#b00000 56.5px,#c70000 83.5px,#e60000 109.5px,#ec0000 151.5px,#ef0000)"></i><i style="left:117px;background:linear-gradient(#3b0000,#400000 11.5px,#500 28.5px,#730000 35.5px,#8d0000 42.5px,#ad0000 56.5px,#c70000 85.5px,#e30000 110.5px,#e90000 146.5px,#ed0000)"></i><i style="left:118px;background:linear-gradient(#3b0000,#410000 13.5px,#530000 28.5px,#710000 35.5px,#8d0000 43.5px,#ac0000 57.5px,#c70000 87.5px,#e00000 111.5px,#e70000 143.5px,#eb0000)"></i><i style="left:119px;background:linear-gradient(#3b0000,#410000 15.5px,#510000 28.5px,#6f0000 35.5px,#8b0000 43.5px,#a00 57.5px,#c00 94.5px,#df0000 117.5px,#e50000 153.5px,#e90000)"></i><i style="left:120px;background:linear-gradient(#3a0000,#420000 17.5px,#530000 29.5px,#800000 40.5px,#a40000 55.5px,#b30000 70.5px,#dc0000 117.5px,#e30000 146.5px,#e70000)"></i><i style="left:121px;background:linear-gradient(#3a0000,#410000 18.5px,#510000 29.5px,#7e0000 40.5px,#a20000 55.5px,#b30000 72.5px,#dc0000 124.5px,#e50000)"></i><i style="left:122px;background:linear-gradient(#3a0000,#400000 18.5px,#500000 29.5px,#7c0000 40.5px,#a00000 55.5px,#b20000 74.5px,#dc0000 130.5px,#e20000)"></i><i style="left:123px;background:linear-gradient(#390000,#3f0000 18.5px,#4f0000 29.5px,#7a0000 40.5px,#9d0000 55.5px,#b20000 77.5px,#da0000 131.5px,#df0000)"></i><i style="left:124px;background:linear-gradient(#390000,#3f0000 18.5px,#4e0000 29.5px,#780000 40.5px,#9b0000 55.5px,#b20000 79.5px,#d80000 131.5px,#db0000)"></i><i style="left:125px;background:linear-gradient(#390000,#3e0000 18.5px,#4d0000 29.5px,#700 40.5px,#9a0000 56.5px,#b40000 86.5px,#d60000 131.5px,#d70000)"></i><i style="left:126px;background:linear-gradient(#380000,#3d0000 18.5px,#4c0000 29.5px,#750000 40.5px,#980000 56.5px,#b20000 87.5px,#d40000 131.5px,#d30000)"></i><i style="left:127px;background:linear-gradient(#380000,#3c0000 18.5px,#4b0000 29.5px,#740000 40.5px,#960000 56.5px,#b10000 88.5px,#d20000 131.5px,#cf0000)"></i><i style="left:128px;background:linear-gradient(#380000,#3c0000 18.5px,#4a0000 29.5px,#730000 40.5px,#940000 56.5px,#ae0000 88.5px,#cf0000 131.5px,#ca0000)"></i><i style="left:129px;background:linear-gradient(#380000,#3c0000 19.5px,#490000 29.5px,#710000 40.5px,#920000 56.5px,#a90000 85.5px,#cd0000 131.5px,#c70000)"></i><i style="left:130px;background:linear-gradient(#370000,#3c0000 20.5px,#490000 29.5px,#700000 40.5px,#8f0000 56.5px,#a50000 83.5px,#cb0000 131.5px,#c30000)"></i><i style="left:131px;background:linear-gradient(#370000,#3c0000 21.5px,#4b0000 30.5px,#6f0000 40.5px,#8f0000 57.5px,#a30000 84.5px,#c90000 130.5px,#c00000)"></i><i style="left:132px;background:linear-gradient(#370000,#3b0000 21.5px,#4a0000 30.5px,#6b0000 39.5px,#8b0000 56.5px,#9f0000 81.5px,#ad0000 100.5px,#c70000 130.5px,#be0000)"></i><i style="left:133px;background:linear-gradient(#370000,#3b0000 22.5px,#4a0000 30.5px,#6a0000 39.5px,#890000 56.5px,#9d0000 80.5px,#a80000 99.5px,#c40000 129.5px,#bc0000)"></i><i style="left:134px;background:linear-gradient(#370000,#3a0000 22.5px,#490000 30.5px,#690000 39.5px,#800 57.5px,#9a0000 80.5px,#a50000 99.5px,#c20000 129.5px,#ba0000)"></i><i style="left:135px;background:linear-gradient(#360000,#3a0000 22.5px,#480000 30.5px,#680000 39.5px,#860000 57.5px,#970000 79.5px,#a10000 98.5px,#bf0000 127.5px,#b90000)"></i><i style="left:136px;background:linear-gradient(#360000,#390000 22.5px,#480000 30.5px,#670000 39.5px,#840000 57.5px,#950000 78.5px,#9c0000 97.5px,#b00 125.5px,#b90000 181.5px,#b70000)"></i><i style="left:137px;background:linear-gradient(#360000,#380000 22.5px,#470000 30.5px,#600 39.5px,#830000 58.5px,#920000 77.5px,#980000 97.5px,#b80000 124.5px,#b90000 159.5px,#b50000)"></i><i style="left:138px;background:linear-gradient(#360000,#380000 22.5px,#470000 30.5px,#650000 39.5px,#820000 59.5px,#900000 76.5px,#930000 96.5px,#b50000 124.5px,#b60000 174.5px,#b40000)"></i><i style="left:139px;background:linear-gradient(#360000,#370000 22.5px,#460000 30.5px,#640000 39.5px,#810000 60.5px,#8e0000 76.5px,#900000 96.5px,#b30000 125.5px,#b30000 192.5px,#b20000)"></i><i style="left:140px;background:linear-gradient(#360000,#370000 22.5px,#460000 30.5px,#640000 39.5px,#810000 62.5px,#8c0000 76.5px,#8c0000 96.5px,#b10000 127.5px,#b10000 192.5px,#b00000)"></i><i style="left:141px;background:linear-gradient(#350000,#360000 22.5px,#450000 30.5px,#630000 39.5px,#840000 66.5px,#8a0000 79.5px,#800 95.5px,#ae0000 127.5px,#b00000 185.5px,#ae0000)"></i><i style="left:142px;background:linear-gradient(#350000,#360000 22.5px,#450000 30.5px,#620000 39.5px,#850000 69.5px,#870000 82.5px,#860000 95.5px,#a00 126.5px,#b00000 173.5px,#ab0000)"></i><i style="left:143px;background:linear-gradient(#350000,#350000 22.5px,#400 30.5px,#610000 39.5px,#840000 70.5px,#840000 83.5px,#830000 95.5px,#a70000 126.5px,#ad0000 171.5px,#a90000)"></i><i style="left:144px;background:linear-gradient(#350000,#350000 22.5px,#470000 31.5px,#600000 39.5px,#830000 71.5px,#810000 86.5px,#830000 97.5px,#a40000 126.5px,#ab0000 170.5px,#a60000)"></i><i style="left:145px;background:linear-gradient(#350000,#350000 22.5px,#470000 31.5px,#5f0000 39.5px,#820000 72.5px,#810000 96.5px,#a20000 128.5px,#a80000 175.5px,#a40000)"></i><i style="left:146px;background:linear-gradient(#350000,#340000 22.5px,#460000 31.5px,#5e0000 39.5px,#800000 72.5px,#7f0000 96.5px,#a00000 129.5px,#a50000 176.5px,#a10000)"></i><i style="left:147px;background:linear-gradient(#340000,#340000 22.5px,#460000 31.5px,#5d0000 39.5px,#7f0000 73.5px,#7e0000 96.5px,#9e0000 130.5px,#a20000 178.5px,#9e0000)"></i><i style="left:148px;background:linear-gradient(#340000,#340000 22.5px,#450000 31.5px,#5c0000 39.5px,#7d0000 73.5px,#7d0000 97.5px,#9c0000 131.5px,#9f0000 179.5px,#9c0000)"></i><i style="left:149px;background:linear-gradient(#340000,#340000 22.5px,#450000 31.5px,#5c0000 39.5px,#7c0000 73.5px,#7c0000 97.5px,#900 131.5px,#9d0000 179.5px,#9a0000)"></i><i style="left:150px;background:linear-gradient(#340000,#340000 22.5px,#400 31.5px,#5b0000 39.5px,#7a0000 73.5px,#7c0000 98.5px,#970000 132.5px,#9b0000 180.5px,#970000)"></i><i style="left:151px;background:linear-gradient(#340000,#340000 22.5px,#400 31.5px,#5a0000 39.5px,#790000 74.5px,#7b0000 99.5px,#950000 133.5px,#980000 181.5px,#950000)"></i><i style="left:152px;background:linear-gradient(#340000,#340000 22.5px,#430000 31.5px,#590000 39.5px,#700 74.5px,#7b0000 100.5px,#930000 133.5px,#960000 181.5px,#930000)"></i><i style="left:153px;background:linear-gradient(#340000,#300 22.5px,#430000 31.5px,#580000 39.5px,#750000 73.5px,#7b0000 101.5px,#910000 133.5px,#940000 182.5px,#900000)"></i><i style="left:154px;background:linear-gradient(#300,#300 22.5px,#430000 31.5px,#580000 39.5px,#730000 73.5px,#7b0000 103.5px,#900000 134.5px,#910000 184.5px,#8e0000)"></i><i style="left:155px;background:linear-gradient(#300,#340000 23.5px,#420000 31.5px,#570000 39.5px,#720000 73.5px,#7c0000 105.5px,#8e0000 134.5px,#8f0000 184.5px,#8c0000)"></i><i style="left:156px;background:linear-gradient(#300,#340000 23.5px,#420000 31.5px,#560000 39.5px,#700000 72.5px,#7e0000 110.5px,#8c0000 134.5px,#8d0000 185.5px,#8a0000)"></i><i style="left:157px;background:linear-gradient(#300,#340000 23.5px,#400 32.5px,#570000 40.5px,#700000 75.5px,#7f0000 114.5px,#8a0000 136.5px,#8a0000 187.5px,#800)"></i><i style="left:158px;background:linear-gradient(#300,#340000 23.5px,#400 32.5px,#560000 40.5px,#6e0000 75.5px,#810000 118.5px,#8a0000 141.5px,#800 190.5px,#860000)"></i><i style="left:159px;background:linear-gradient(#300,#340000 23.5px,#430000 32.5px,#500 40.5px,#6d0000 75.5px,#820000 122.5px,#8a0000 165.5px,#850000)"></i><i style="left:160px;background:linear-gradient(#300,#340000 23.5px,#430000 32.5px,#540000 40.5px,#6c0000 75.5px,#860000 139.5px,#850000 190.5px,#840000)"></i><i style="left:161px;background:linear-gradient(#300,#300 23.5px,#420000 32.5px,#540000 40.5px,#6b0000 75.5px,#850000 138.5px,#840000 190.5px,#820000)"></i><i style="left:162px;background:linear-gradient(#320000,#300 23.5px,#420000 32.5px,#530000 40.5px,#690000 75.5px,#830000 138.5px,#820000 191.5px,#810000)"></i><i style="left:163px;background:linear-gradient(#320000,#300 23.5px,#410000 32.5px,#520000 40.5px,#690000 76.5px,#820000 138.5px,#810000 193.5px,#800000)"></i><i style="left:164px;background:linear-gradient(#320000,#300 23.5px,#410000 32.5px,#520000 40.5px,#690000 77.5px,#810000 137.5px,#7f0000 194.5px,#7f0000)"></i><i style="left:165px;background:linear-gradient(#320000,#300 23.5px,#410000 32.5px,#510000 40.5px,#690000 80.5px,#800000 137.5px,#7e0000)"></i><i style="left:166px;background:linear-gradient(#320000,#340000 24.5px,#430000 33.5px,#520000 42.5px,#710000 98.5px,#7f0000 139.5px,#7d0000)"></i><i style="left:167px;background:linear-gradient(#320000,#340000 24.5px,#420000 33.5px,#510000 42.5px,#710000 100.5px,#7e0000 139.5px,#7c0000)"></i><i style="left:168px;background:linear-gradient(#320000,#340000 24.5px,#420000 33.5px,#510000 42.5px,#710000 101.5px,#7d0000 139.5px,#7c0000)"></i><i style="left:169px;background:linear-gradient(#320000,#300 24.5px,#410000 33.5px,#500000 42.5px,#710000 103.5px,#7d0000 139.5px,#7b0000)"></i><i style="left:170px;background:linear-gradient(#320000,#300 24.5px,#410000 33.5px,#500000 43.5px,#720000 108.5px,#7c0000 140.5px,#7a0000)"></i><i style="left:171px;background:linear-gradient(#320000,#300 24.5px,#400000 33.5px,#4f0000 43.5px,#720000 108.5px,#7b0000 140.5px,#7a0000)"></i><i style="left:172px;background:linear-gradient(#310000,#300 24.5px,#400000 33.5px,#4f0000 43.5px,#710000 108.5px,#7b0000 140.5px,#790000)"></i><i style="left:173px;background:linear-gradient(#310000,#340000 25.5px,#430000 35.5px,#500 52.5px,#780000 125.5px,#790000)"></i><i style="left:174px;background:linear-gradient(#310000,#340000 25.5px,#430000 35.5px,#500 53.5px,#780000 125.5px,#780000)"></i><i style="left:175px;background:linear-gradient(#310000,#300 25.5px,#400 36.5px,#570000 59.5px,#780000 128.5px,#780000)"></i><i style="left:176px;background:linear-gradient(#310000,#300 25.5px,#4d0000 45.5px,#710000 112.5px,#780000 141.5px,#700)"></i><i style="left:177px;background:linear-gradient(#310000,#300 25.5px,#4d0000 46.5px,#710000 114.5px,#780000 143.5px,#700)"></i><i style="left:178px;background:linear-gradient(#310000,#300 25.5px,#4e0000 47.5px,#720000 116.5px,#700 148.5px,#760000)"></i><i style="left:179px;background:linear-gradient(#310000,#340000 26.5px,#4d0000 47.5px,#710000 116.5px,#760000 147.5px,#760000)"></i><i style="left:180px;background:linear-gradient(#310000,#300 26.5px,#4c0000 47.5px,#710000 115.5px,#760000 144.5px,#750000)"></i><i style="left:181px;background:linear-gradient(#310000,#300 26.5px,#4c0000 48.5px,#710000 117.5px,#750000 150.5px,#750000)"></i><i style="left:182px;background:linear-gradient(#310000,#300 26.5px,#4c0000 49.5px,#710000 117.5px,#750000 149.5px,#750000)"></i><i style="left:183px;background:linear-gradient(#310000,#340000 27.5px,#4c0000 49.5px,#700000 115.5px,#750000 143.5px,#740000)"></i><i style="left:184px;background:linear-gradient(#310000,#300 27.5px,#4b0000 49.5px,#6e0000 113.5px,#740000 140.5px,#740000)"></i><i style="left:185px;background:linear-gradient(#310000,#300 27.5px,#4b0000 50.5px,#6e0000 112.5px,#740000 139.5px,#730000)"></i><i style="left:186px;background:linear-gradient(#310000,#300 27.5px,#4b0000 50.5px,#6c0000 110.5px,#740000 137.5px,#730000)"></i><i style="left:187px;background:linear-gradient(#300000,#340000 28.5px,#4a0000 49.5px,#6b0000 108.5px,#730000 137.5px,#730000)"></i><i style="left:188px;background:linear-gradient(#300000,#340000 28.5px,#490000 49.5px,#6b0000 107.5px,#730000 136.5px,#720000)"></i><i style="left:189px;background:linear-gradient(#300000,#300 28.5px,#490000 50.5px,#6a0000 106.5px,#730000 136.5px,#720000)"></i><i style="left:190px;background:linear-gradient(#300000,#300 28.5px,#490000 50.5px,#690000 105.5px,#730000 136.5px,#720000)"></i><i style="left:191px;background:linear-gradient(#300000,#300 28.5px,#480000 50.5px,#690000 104.5px,#730000 136.5px,#710000)"></i><i style="left:192px;background:linear-gradient(#300000,#340000 29.5px,#480000 50.5px,#680000 103.5px,#720000 135.5px,#710000)"></i><i style="left:193px;background:linear-gradient(#300000,#340000 29.5px,#470000 50.5px,#670000 102.5px,#720000 135.5px,#710000)"></i><i style="left:194px;background:linear-gradient(#300000,#300 29.5px,#470000 50.5px,#670000 102.5px,#720000 135.5px,#700000)"></i><i style="left:195px;background:linear-gradient(#300000,#300 29.5px,#460000 50.5px,#600 101.5px,#720000 135.5px,#700000)"></i><i style="left:196px;background:linear-gradient(#300000,#300 29.5px,#460000 51.5px,#600 101.5px,#720000 135.5px,#700000)"></i><i style="left:197px;background:linear-gradient(#300000,#300 29.5px,#460000 51.5px,#600 100.5px,#710000 135.5px,#6f0000)"></i><i style="left:198px;background:linear-gradient(#300000,#300 29.5px,#450000 51.5px,#650000 100.5px,#710000 135.5px,#6f0000)"></i><i style="left:199px;background:linear-gradient(#300000,#340000 30.5px,#450000 51.5px,#650000 100.5px,#710000 135.5px,#6f0000)"></i><i style="left:200px;background:linear-gradient(#300000,#340000 30.5px,#400 51.5px,#650000 100.5px,#710000 135.5px,#6e0000)"></i><i style="left:201px;background:linear-gradient(#300000,#340000 30.5px,#400 51.5px,#650000 100.5px,#710000 135.5px,#6e0000)"></i><i style="left:202px;background:linear-gradient(#300000,#340000 30.5px,#400 51.5px,#650000 101.5px,#700000 135.5px,#6e0000)"></i><i style="left:203px;background:linear-gradient(#300000,#340000 30.5px,#430000 51.5px,#650000 101.5px,#700000 135.5px,#6e0000)"></i><i style="left:204px;background:linear-gradient(#300000,#340000 30.5px,#430000 51.5px,#650000 102.5px,#700000 135.5px,#6d0000)"></i><i style="left:205px;background:linear-gradient(#300000,#300 30.5px,#420000 51.5px,#600 103.5px,#6f0000 136.5px,#6d0000)"></i></div>
<svg width="550" height="251" viewBox="0 0 550 251"><defs><linearGradient id="cb" x1="0" y1="0" x2="0" y2="1"><stop offset="0.000" stop-color="#ffffff"/><stop offset="0.050" stop-color="#ffffcd"/><stop offset="0.100" stop-color="#ffff91"/><stop offset="0.150" stop-color="#ffff4b"/><stop offset="0.200" stop-color="#ffff00"/><stop offset="0.300" stop-color="#ffe000"/><stop offset="0.380" stop-color="#ffc000"/><stop offset="0.440" stop-color="#ffa000"/><stop offset="0.500" stop-color="#ff8000"/><stop offset="0.570" stop-color="#ff6000"/><stop offset="0.620" stop-color="#ff4000"/><stop offset="0.670" stop-color="#ff2000"/><stop offset="0.720" stop-color="#ff0000"/><stop offset="0.750" stop-color="#f00000"/><stop offset="0.800" stop-color="#d20000"/><stop offset="0.850" stop-color="#b00000"/><stop offset="0.900" stop-color="#800000"/><stop offset="0.950" stop-color="#500000"/><stop offset="1.000" stop-color="#1e0000"/></linearGradient></defs><line x1="40.50" y1="10.50" x2="247.50" y2="10.50" stroke="#111" stroke-width="1"/><line x1="40.50" y1="208.50" x2="247.50" y2="208.50" stroke="#111" stroke-width="1"/><line x1="247.50" y1="10.00" x2="247.50" y2="209.00" stroke="#111" stroke-width="1"/><line x1="40.50" y1="10.00" x2="40.50" y2="209.00" stroke="#8a9aa4" stroke-width="1"/><text x="40.50" y="221.00" font-size="10.3" text-anchor="middle" fill="#111" class="ax">3</text><line x1="49.91" y1="208.50" x2="49.91" y2="206.50" stroke="#000" stroke-width="1"/><line x1="49.91" y1="10.50" x2="49.91" y2="12.50" stroke="#000" stroke-width="1"/><line x1="59.32" y1="208.50" x2="59.32" y2="204.50" stroke="#000" stroke-width="1"/><line x1="59.32" y1="10.50" x2="59.32" y2="14.50" stroke="#000" stroke-width="1"/><text x="59.32" y="221.00" font-size="10.3" text-anchor="middle" fill="#111" class="ax">4</text><line x1="68.73" y1="208.50" x2="68.73" y2="206.50" stroke="#000" stroke-width="1"/><line x1="68.73" y1="10.50" x2="68.73" y2="12.50" stroke="#000" stroke-width="1"/><line x1="78.14" y1="208.50" x2="78.14" y2="204.50" stroke="#000" stroke-width="1"/><line x1="78.14" y1="10.50" x2="78.14" y2="14.50" stroke="#000" stroke-width="1"/><text x="78.14" y="221.00" font-size="10.3" text-anchor="middle" fill="#111" class="ax">5</text><line x1="87.55" y1="208.50" x2="87.55" y2="206.50" stroke="#000" stroke-width="1"/><line x1="87.55" y1="10.50" x2="87.55" y2="12.50" stroke="#000" stroke-width="1"/><line x1="96.95" y1="208.50" x2="96.95" y2="204.50" stroke="#000" stroke-width="1"/><line x1="96.95" y1="10.50" x2="96.95" y2="14.50" stroke="#000" stroke-width="1"/><text x="96.95" y="221.00" font-size="10.3" text-anchor="middle" fill="#111" class="ax">6</text><line x1="106.36" y1="208.50" x2="106.36" y2="206.50" stroke="#000" stroke-width="1"/><line x1="106.36" y1="10.50" x2="106.36" y2="12.50" stroke="#000" stroke-width="1"/><line x1="115.77" y1="208.50" x2="115.77" y2="204.50" stroke="#000" stroke-width="1"/><line x1="115.77" y1="10.50" x2="115.77" y2="14.50" stroke="#000" stroke-width="1"/><text x="115.77" y="221.00" font-size="10.3" text-anchor="middle" fill="#111" class="ax">7</text><line x1="125.18" y1="208.50" x2="125.18" y2="206.50" stroke="#000" stroke-width="1"/><line x1="125.18" y1="10.50" x2="125.18" y2="12.50" stroke="#000" stroke-width="1"/><line x1="134.59" y1="208.50" x2="134.59" y2="204.50" stroke="#000" stroke-width="1"/><line x1="134.59" y1="10.50" x2="134.59" y2="14.50" stroke="#000" stroke-width="1"/><text x="134.59" y="221.00" font-size="10.3" text-anchor="middle" fill="#111" class="ax">8</text><line x1="144.00" y1="208.50" x2="144.00" y2="206.50" stroke="#000" stroke-width="1"/><line x1="144.00" y1="10.50" x2="144.00" y2="12.50" stroke="#000" stroke-width="1"/><line x1="153.41" y1="208.50" x2="153.41" y2="204.50" stroke="#000" stroke-width="1"/><line x1="153.41" y1="10.50" x2="153.41" y2="14.50" stroke="#000" stroke-width="1"/><text x="153.41" y="221.00" font-size="10.3" text-anchor="middle" fill="#111" class="ax">9</text><line x1="162.82" y1="208.50" x2="162.82" y2="206.50" stroke="#000" stroke-width="1"/><line x1="162.82" y1="10.50" x2="162.82" y2="12.50" stroke="#000" stroke-width="1"/><line x1="172.23" y1="208.50" x2="172.23" y2="204.50" stroke="#000" stroke-width="1"/><line x1="172.23" y1="10.50" x2="172.23" y2="14.50" stroke="#000" stroke-width="1"/><text x="172.23" y="221.00" font-size="10.3" text-anchor="middle" fill="#111" class="ax">10</text><line x1="181.64" y1="208.50" x2="181.64" y2="206.50" stroke="#000" stroke-width="1"/><line x1="181.64" y1="10.50" x2="181.64" y2="12.50" stroke="#000" stroke-width="1"/><line x1="191.05" y1="208.50" x2="191.05" y2="204.50" stroke="#000" stroke-width="1"/><line x1="191.05" y1="10.50" x2="191.05" y2="14.50" stroke="#000" stroke-width="1"/><text x="191.05" y="221.00" font-size="10.3" text-anchor="middle" fill="#111" class="ax">11</text><line x1="200.45" y1="208.50" x2="200.45" y2="206.50" stroke="#000" stroke-width="1"/><line x1="200.45" y1="10.50" x2="200.45" y2="12.50" stroke="#000" stroke-width="1"/><line x1="209.86" y1="208.50" x2="209.86" y2="204.50" stroke="#000" stroke-width="1"/><line x1="209.86" y1="10.50" x2="209.86" y2="14.50" stroke="#000" stroke-width="1"/><text x="209.86" y="221.00" font-size="10.3" text-anchor="middle" fill="#111" class="ax">12</text><line x1="219.27" y1="208.50" x2="219.27" y2="206.50" stroke="#000" stroke-width="1"/><line x1="219.27" y1="10.50" x2="219.27" y2="12.50" stroke="#000" stroke-width="1"/><line x1="228.68" y1="208.50" x2="228.68" y2="204.50" stroke="#000" stroke-width="1"/><line x1="228.68" y1="10.50" x2="228.68" y2="14.50" stroke="#000" stroke-width="1"/><text x="228.68" y="221.00" font-size="10.3" text-anchor="middle" fill="#111" class="ax">13</text><line x1="238.09" y1="208.50" x2="238.09" y2="206.50" stroke="#000" stroke-width="1"/><line x1="238.09" y1="10.50" x2="238.09" y2="12.50" stroke="#000" stroke-width="1"/><text x="247.50" y="221.00" font-size="10.3" text-anchor="middle" fill="#111" class="ax">14</text><text x="36.30" y="212.20" font-size="10.3" text-anchor="end" fill="#111" class="ax">0</text><line x1="40.50" y1="192.00" x2="42.50" y2="192.00" stroke="#111" stroke-width="1"/><line x1="247.50" y1="192.00" x2="245.50" y2="192.00" stroke="#111" stroke-width="1"/><line x1="40.50" y1="175.50" x2="43.50" y2="175.50" stroke="#111" stroke-width="1"/><line x1="247.50" y1="175.50" x2="244.50" y2="175.50" stroke="#111" stroke-width="1"/><text x="36.30" y="179.20" font-size="10.3" text-anchor="end" fill="#111" class="ax">15</text><line x1="40.50" y1="159.00" x2="42.50" y2="159.00" stroke="#111" stroke-width="1"/><line x1="247.50" y1="159.00" x2="245.50" y2="159.00" stroke="#111" stroke-width="1"/><line x1="40.50" y1="142.50" x2="43.50" y2="142.50" stroke="#111" stroke-width="1"/><line x1="247.50" y1="142.50" x2="244.50" y2="142.50" stroke="#111" stroke-width="1"/><text x="36.30" y="146.20" font-size="10.3" text-anchor="end" fill="#111" class="ax">30</text><line x1="40.50" y1="126.00" x2="42.50" y2="126.00" stroke="#111" stroke-width="1"/><line x1="247.50" y1="126.00" x2="245.50" y2="126.00" stroke="#111" stroke-width="1"/><line x1="40.50" y1="109.50" x2="43.50" y2="109.50" stroke="#111" stroke-width="1"/><line x1="247.50" y1="109.50" x2="244.50" y2="109.50" stroke="#111" stroke-width="1"/><text x="36.30" y="113.20" font-size="10.3" text-anchor="end" fill="#111" class="ax">45</text><line x1="40.50" y1="93.00" x2="42.50" y2="93.00" stroke="#111" stroke-width="1"/><line x1="247.50" y1="93.00" x2="245.50" y2="93.00" stroke="#111" stroke-width="1"/><line x1="40.50" y1="76.50" x2="43.50" y2="76.50" stroke="#111" stroke-width="1"/><line x1="247.50" y1="76.50" x2="244.50" y2="76.50" stroke="#111" stroke-width="1"/><text x="36.30" y="80.20" font-size="10.3" text-anchor="end" fill="#111" class="ax">60</text><line x1="40.50" y1="60.00" x2="42.50" y2="60.00" stroke="#111" stroke-width="1"/><line x1="247.50" y1="60.00" x2="245.50" y2="60.00" stroke="#111" stroke-width="1"/><line x1="40.50" y1="43.50" x2="43.50" y2="43.50" stroke="#111" stroke-width="1"/><line x1="247.50" y1="43.50" x2="244.50" y2="43.50" stroke="#111" stroke-width="1"/><text x="36.30" y="47.20" font-size="10.3" text-anchor="end" fill="#111" class="ax">75</text><line x1="40.50" y1="27.00" x2="42.50" y2="27.00" stroke="#111" stroke-width="1"/><line x1="247.50" y1="27.00" x2="245.50" y2="27.00" stroke="#111" stroke-width="1"/><text x="36.30" y="14.20" font-size="10.3" text-anchor="end" fill="#111" class="ax">90</text><text x="144.00" y="240.80" font-size="14" text-anchor="middle" fill="#111" class="ax">Wavelength [μm]</text><line x1="275.50" y1="10.50" x2="482.50" y2="10.50" stroke="#111" stroke-width="1"/><line x1="275.50" y1="208.50" x2="482.50" y2="208.50" stroke="#111" stroke-width="1"/><line x1="482.50" y1="10.00" x2="482.50" y2="209.00" stroke="#111" stroke-width="1"/><line x1="275.50" y1="10.00" x2="275.50" y2="209.00" stroke="#8a9aa4" stroke-width="1"/><text x="275.50" y="221.00" font-size="10.3" text-anchor="middle" fill="#111" class="ax">3</text><line x1="284.91" y1="208.50" x2="284.91" y2="206.50" stroke="#000" stroke-width="1"/><line x1="284.91" y1="10.50" x2="284.91" y2="12.50" stroke="#000" stroke-width="1"/><line x1="294.32" y1="208.50" x2="294.32" y2="204.50" stroke="#000" stroke-width="1"/><line x1="294.32" y1="10.50" x2="294.32" y2="14.50" stroke="#000" stroke-width="1"/><text x="294.32" y="221.00" font-size="10.3" text-anchor="middle" fill="#111" class="ax">4</text><line x1="303.73" y1="208.50" x2="303.73" y2="206.50" stroke="#000" stroke-width="1"/><line x1="303.73" y1="10.50" x2="303.73" y2="12.50" stroke="#000" stroke-width="1"/><line x1="313.14" y1="208.50" x2="313.14" y2="204.50" stroke="#000" stroke-width="1"/><line x1="313.14" y1="10.50" x2="313.14" y2="14.50" stroke="#000" stroke-width="1"/><text x="313.14" y="221.00" font-size="10.3" text-anchor="middle" fill="#111" class="ax">5</text><line x1="322.55" y1="208.50" x2="322.55" y2="206.50" stroke="#000" stroke-width="1"/><line x1="322.55" y1="10.50" x2="322.55" y2="12.50" stroke="#000" stroke-width="1"/><line x1="331.95" y1="208.50" x2="331.95" y2="204.50" stroke="#000" stroke-width="1"/><line x1="331.95" y1="10.50" x2="331.95" y2="14.50" stroke="#000" stroke-width="1"/><text x="331.95" y="221.00" font-size="10.3" text-anchor="middle" fill="#111" class="ax">6</text><line x1="341.36" y1="208.50" x2="341.36" y2="206.50" stroke="#000" stroke-width="1"/><line x1="341.36" y1="10.50" x2="341.36" y2="12.50" stroke="#000" stroke-width="1"/><line x1="350.77" y1="208.50" x2="350.77" y2="204.50" stroke="#000" stroke-width="1"/><line x1="350.77" y1="10.50" x2="350.77" y2="14.50" stroke="#000" stroke-width="1"/><text x="350.77" y="221.00" font-size="10.3" text-anchor="middle" fill="#111" class="ax">7</text><line x1="360.18" y1="208.50" x2="360.18" y2="206.50" stroke="#000" stroke-width="1"/><line x1="360.18" y1="10.50" x2="360.18" y2="12.50" stroke="#000" stroke-width="1"/><line x1="369.59" y1="208.50" x2="369.59" y2="204.50" stroke="#000" stroke-width="1"/><line x1="369.59" y1="10.50" x2="369.59" y2="14.50" stroke="#000" stroke-width="1"/><text x="369.59" y="221.00" font-size="10.3" text-anchor="middle" fill="#111" class="ax">8</text><line x1="379.00" y1="208.50" x2="379.00" y2="206.50" stroke="#000" stroke-width="1"/><line x1="379.00" y1="10.50" x2="379.00" y2="12.50" stroke="#000" stroke-width="1"/><line x1="388.41" y1="208.50" x2="388.41" y2="204.50" stroke="#000" stroke-width="1"/><line x1="388.41" y1="10.50" x2="388.41" y2="14.50" stroke="#000" stroke-width="1"/><text x="388.41" y="221.00" font-size="10.3" text-anchor="middle" fill="#111" class="ax">9</text><line x1="397.82" y1="208.50" x2="397.82" y2="206.50" stroke="#000" stroke-width="1"/><line x1="397.82" y1="10.50" x2="397.82" y2="12.50" stroke="#000" stroke-width="1"/><line x1="407.23" y1="208.50" x2="407.23" y2="204.50" stroke="#000" stroke-width="1"/><line x1="407.23" y1="10.50" x2="407.23" y2="14.50" stroke="#000" stroke-width="1"/><text x="407.23" y="221.00" font-size="10.3" text-anchor="middle" fill="#111" class="ax">10</text><line x1="416.64" y1="208.50" x2="416.64" y2="206.50" stroke="#000" stroke-width="1"/><line x1="416.64" y1="10.50" x2="416.64" y2="12.50" stroke="#000" stroke-width="1"/><line x1="426.05" y1="208.50" x2="426.05" y2="204.50" stroke="#000" stroke-width="1"/><line x1="426.05" y1="10.50" x2="426.05" y2="14.50" stroke="#000" stroke-width="1"/><text x="426.05" y="221.00" font-size="10.3" text-anchor="middle" fill="#111" class="ax">11</text><line x1="435.45" y1="208.50" x2="435.45" y2="206.50" stroke="#000" stroke-width="1"/><line x1="435.45" y1="10.50" x2="435.45" y2="12.50" stroke="#000" stroke-width="1"/><line x1="444.86" y1="208.50" x2="444.86" y2="204.50" stroke="#000" stroke-width="1"/><line x1="444.86" y1="10.50" x2="444.86" y2="14.50" stroke="#000" stroke-width="1"/><text x="444.86" y="221.00" font-size="10.3" text-anchor="middle" fill="#111" class="ax">12</text><line x1="454.27" y1="208.50" x2="454.27" y2="206.50" stroke="#000" stroke-width="1"/><line x1="454.27" y1="10.50" x2="454.27" y2="12.50" stroke="#000" stroke-width="1"/><line x1="463.68" y1="208.50" x2="463.68" y2="204.50" stroke="#000" stroke-width="1"/><line x1="463.68" y1="10.50" x2="463.68" y2="14.50" stroke="#000" stroke-width="1"/><text x="463.68" y="221.00" font-size="10.3" text-anchor="middle" fill="#111" class="ax">13</text><line x1="473.09" y1="208.50" x2="473.09" y2="206.50" stroke="#000" stroke-width="1"/><line x1="473.09" y1="10.50" x2="473.09" y2="12.50" stroke="#000" stroke-width="1"/><text x="482.50" y="221.00" font-size="10.3" text-anchor="middle" fill="#111" class="ax">14</text><line x1="275.50" y1="192.00" x2="277.50" y2="192.00" stroke="#111" stroke-width="1"/><line x1="482.50" y1="192.00" x2="480.50" y2="192.00" stroke="#111" stroke-width="1"/><line x1="275.50" y1="175.50" x2="278.50" y2="175.50" stroke="#111" stroke-width="1"/><line x1="482.50" y1="175.50" x2="479.50" y2="175.50" stroke="#111" stroke-width="1"/><line x1="275.50" y1="159.00" x2="277.50" y2="159.00" stroke="#111" stroke-width="1"/><line x1="482.50" y1="159.00" x2="480.50" y2="159.00" stroke="#111" stroke-width="1"/><line x1="275.50" y1="142.50" x2="278.50" y2="142.50" stroke="#111" stroke-width="1"/><line x1="482.50" y1="142.50" x2="479.50" y2="142.50" stroke="#111" stroke-width="1"/><line x1="275.50" y1="126.00" x2="277.50" y2="126.00" stroke="#111" stroke-width="1"/><line x1="482.50" y1="126.00" x2="480.50" y2="126.00" stroke="#111" stroke-width="1"/><line x1="275.50" y1="109.50" x2="278.50" y2="109.50" stroke="#111" stroke-width="1"/><line x1="482.50" y1="109.50" x2="479.50" y2="109.50" stroke="#111" stroke-width="1"/><line x1="275.50" y1="93.00" x2="277.50" y2="93.00" stroke="#111" stroke-width="1"/><line x1="482.50" y1="93.00" x2="480.50" y2="93.00" stroke="#111" stroke-width="1"/><line x1="275.50" y1="76.50" x2="278.50" y2="76.50" stroke="#111" stroke-width="1"/><line x1="482.50" y1="76.50" x2="479.50" y2="76.50" stroke="#111" stroke-width="1"/><line x1="275.50" y1="60.00" x2="277.50" y2="60.00" stroke="#111" stroke-width="1"/><line x1="482.50" y1="60.00" x2="480.50" y2="60.00" stroke="#111" stroke-width="1"/><line x1="275.50" y1="43.50" x2="278.50" y2="43.50" stroke="#111" stroke-width="1"/><line x1="482.50" y1="43.50" x2="479.50" y2="43.50" stroke="#111" stroke-width="1"/><line x1="275.50" y1="27.00" x2="277.50" y2="27.00" stroke="#111" stroke-width="1"/><line x1="482.50" y1="27.00" x2="480.50" y2="27.00" stroke="#111" stroke-width="1"/><text x="379.00" y="240.80" font-size="14" text-anchor="middle" fill="#111" class="ax">Wavelength [μm]</text><text transform="translate(17.2,109) rotate(-90)" font-size="14" fill="#111" class="ax" text-anchor="middle" xml:space="preserve">Angle  [deg]</text><text x="54.80" y="30.20" font-size="12.6" text-anchor="start" fill="#fff" class="wt">(a)</text><text x="288.20" y="30.40" font-size="12.6" text-anchor="start" fill="#fff" class="wt">(b)</text><text x="160.20" y="89.10" font-size="12.4" text-anchor="start" fill="#fff" class="wt">p-polarized</text><text x="397.60" y="89.40" font-size="12.4" text-anchor="start" fill="#fff" class="wt">s-polarized</text><text x="516.10" y="20.00" font-size="10.2" text-anchor="middle" fill="#111" class="ax">Absorptivity</text><rect x="508.50" y="25.80" width="17.00" height="95.90" fill="url(#cb)" stroke="#888" stroke-width="0.8"/><line x1="525.50" y1="121.70" x2="529.50" y2="121.70" stroke="#333" stroke-width="1"/><text x="531.00" y="124.20" font-size="7" text-anchor="start" font-weight="bold" fill="#1a1a1a">0.0</text><line x1="525.50" y1="97.72" x2="529.50" y2="97.72" stroke="#333" stroke-width="1"/><text x="531.00" y="100.22" font-size="7" text-anchor="start" font-weight="bold" fill="#1a1a1a">0.3</text><line x1="525.50" y1="73.75" x2="529.50" y2="73.75" stroke="#333" stroke-width="1"/><text x="531.00" y="76.25" font-size="7" text-anchor="start" font-weight="bold" fill="#1a1a1a">0.5</text><line x1="525.50" y1="49.77" x2="529.50" y2="49.77" stroke="#333" stroke-width="1"/><text x="531.00" y="52.27" font-size="7" text-anchor="start" font-weight="bold" fill="#1a1a1a">0.8</text><line x1="525.50" y1="25.80" x2="529.50" y2="25.80" stroke="#333" stroke-width="1"/><text x="531.00" y="28.30" font-size="7" text-anchor="start" font-weight="bold" fill="#1a1a1a">1.0</text></svg>
</body></html>
